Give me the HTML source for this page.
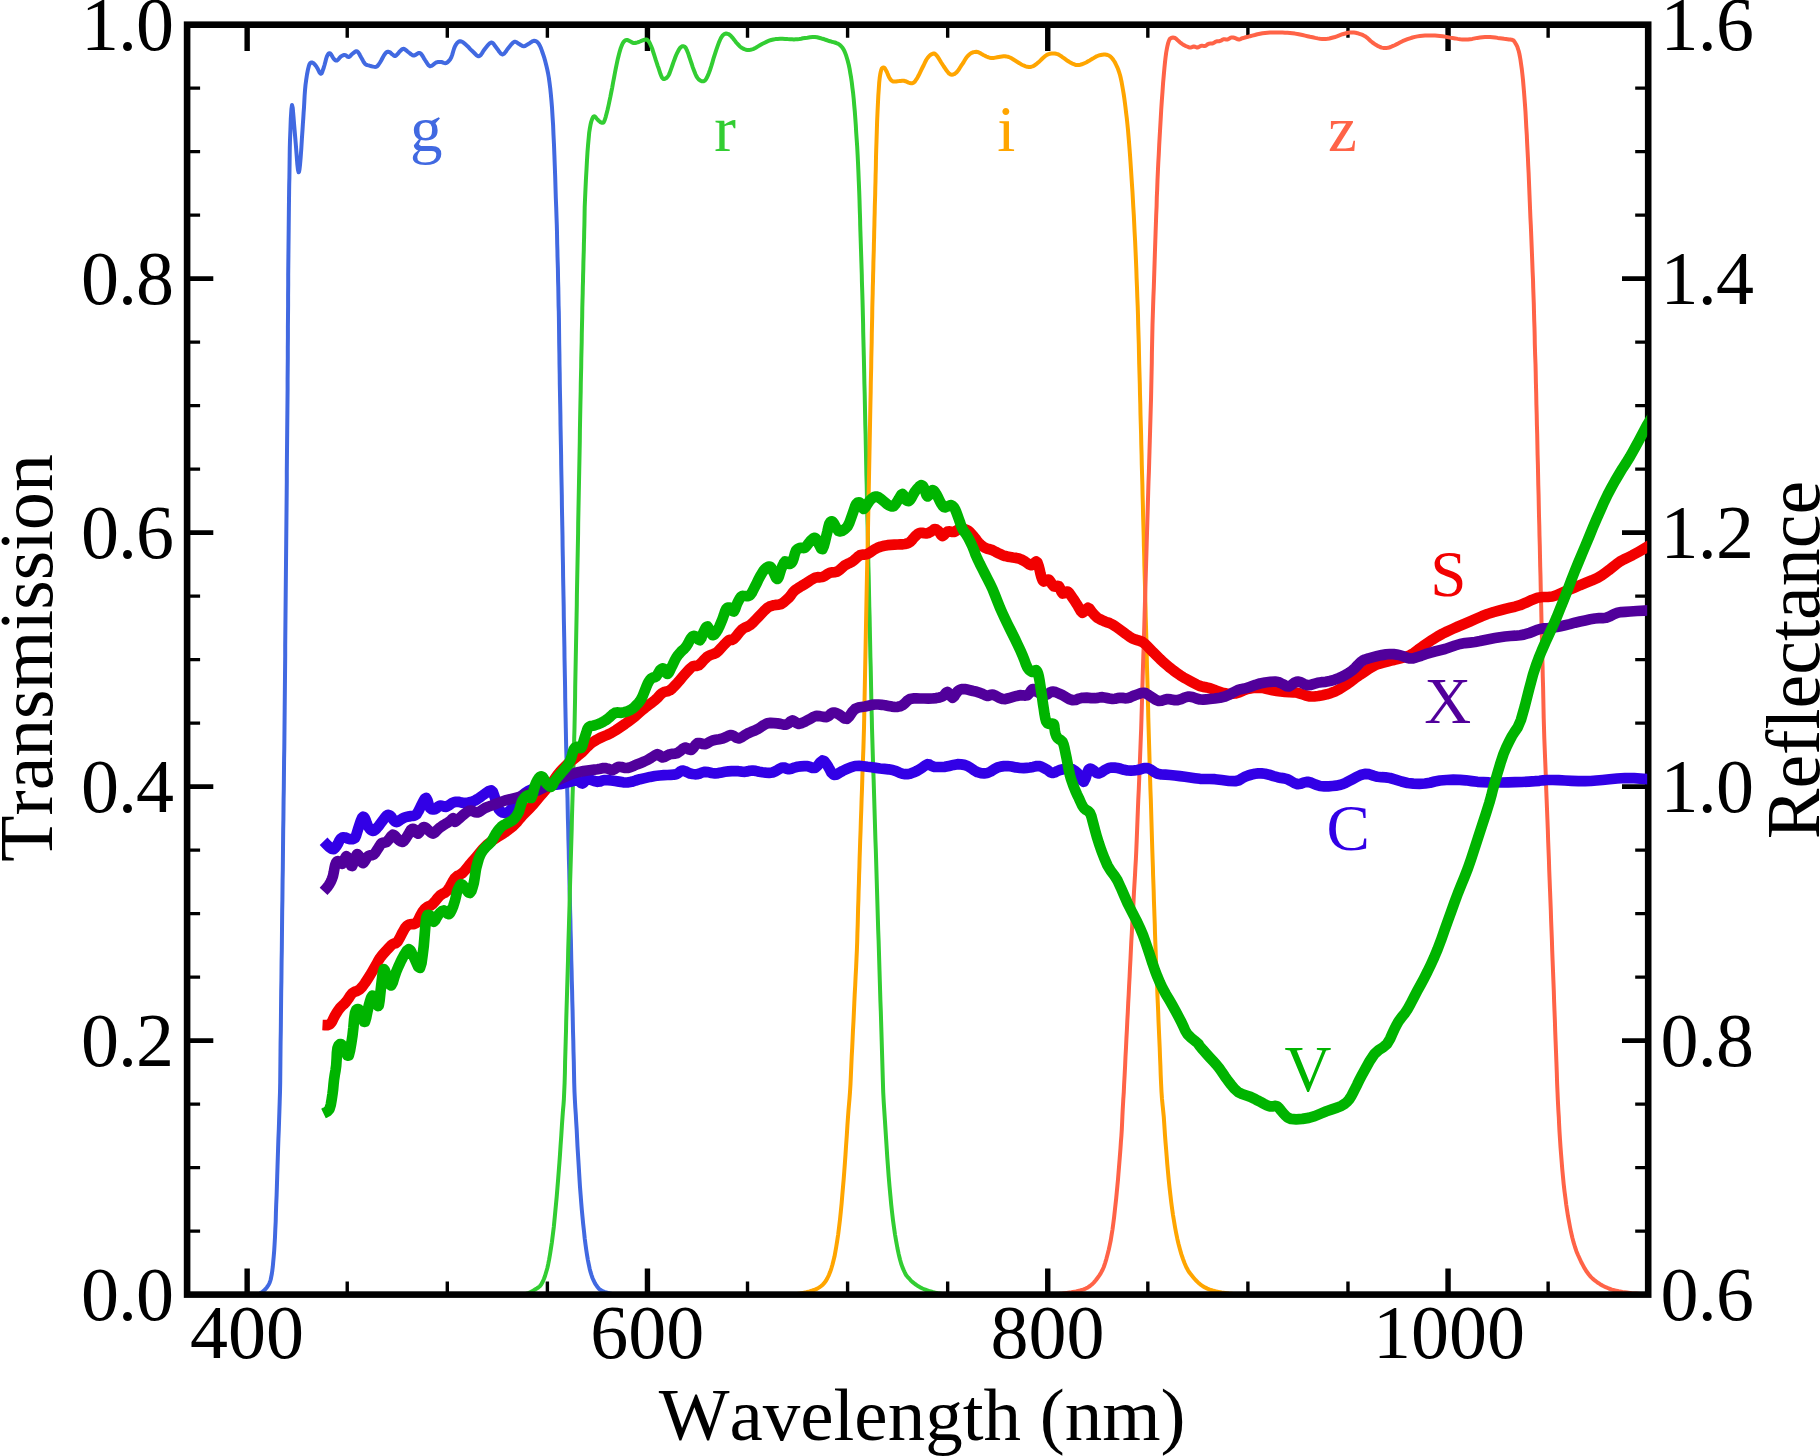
<!DOCTYPE html>
<html lang="en">
<head>
<meta charset="utf-8">
<title>Filter transmission and asteroid reflectance</title>
<style>
html,body{margin:0;padding:0;background:#fff;}
body{width:1820px;height:1456px;overflow:hidden;}
svg{display:block;}
text{font-kerning:none;}
</style>
</head>
<body>
<svg width="1820" height="1456" viewBox="0 0 1820 1456">
<defs><clipPath id="pc"><rect x="187.1" y="24.7" width="1461.1" height="1269.9"/></clipPath><clipPath id="pc2"><rect x="187.1" y="24.7" width="1460.1" height="1269.9"/></clipPath></defs>
<rect width="1820" height="1456" fill="#fff"/>
<g stroke="#000" fill="none">
<path d="M247.15 1294.60 v-26.20 M247.15 24.70 v26.20" stroke-width="5.4"/>
<path d="M347.23 1294.60 v-13.00 M347.23 24.70 v13.00" stroke-width="3.4"/>
<path d="M447.30 1294.60 v-13.00 M447.30 24.70 v13.00" stroke-width="3.4"/>
<path d="M547.38 1294.60 v-13.00 M547.38 24.70 v13.00" stroke-width="3.4"/>
<path d="M647.45 1294.60 v-26.20 M647.45 24.70 v26.20" stroke-width="5.4"/>
<path d="M747.52 1294.60 v-13.00 M747.52 24.70 v13.00" stroke-width="3.4"/>
<path d="M847.60 1294.60 v-13.00 M847.60 24.70 v13.00" stroke-width="3.4"/>
<path d="M947.67 1294.60 v-13.00 M947.67 24.70 v13.00" stroke-width="3.4"/>
<path d="M1047.75 1294.60 v-26.20 M1047.75 24.70 v26.20" stroke-width="5.4"/>
<path d="M1147.83 1294.60 v-13.00 M1147.83 24.70 v13.00" stroke-width="3.4"/>
<path d="M1247.90 1294.60 v-13.00 M1247.90 24.70 v13.00" stroke-width="3.4"/>
<path d="M1347.98 1294.60 v-13.00 M1347.98 24.70 v13.00" stroke-width="3.4"/>
<path d="M1448.05 1294.60 v-26.20 M1448.05 24.70 v26.20" stroke-width="5.4"/>
<path d="M1548.13 1294.60 v-13.00 M1548.13 24.70 v13.00" stroke-width="3.4"/>
<path d="M1648.20 1294.60 v-13.00 M1648.20 24.70 v13.00" stroke-width="3.4"/>
<path d="M187.10 1294.60 h26.20 M1648.20 1294.60 h-26.20" stroke-width="4.8"/>
<path d="M187.10 1231.11 h13.00 M1648.20 1231.11 h-13.00" stroke-width="3.3"/>
<path d="M187.10 1167.61 h13.00 M1648.20 1167.61 h-13.00" stroke-width="3.3"/>
<path d="M187.10 1104.11 h13.00 M1648.20 1104.11 h-13.00" stroke-width="3.3"/>
<path d="M187.10 1040.62 h26.20 M1648.20 1040.62 h-26.20" stroke-width="4.8"/>
<path d="M187.10 977.12 h13.00 M1648.20 977.12 h-13.00" stroke-width="3.3"/>
<path d="M187.10 913.63 h13.00 M1648.20 913.63 h-13.00" stroke-width="3.3"/>
<path d="M187.10 850.13 h13.00 M1648.20 850.13 h-13.00" stroke-width="3.3"/>
<path d="M187.10 786.64 h26.20 M1648.20 786.64 h-26.20" stroke-width="4.8"/>
<path d="M187.10 723.14 h13.00 M1648.20 723.14 h-13.00" stroke-width="3.3"/>
<path d="M187.10 659.65 h13.00 M1648.20 659.65 h-13.00" stroke-width="3.3"/>
<path d="M187.10 596.15 h13.00 M1648.20 596.15 h-13.00" stroke-width="3.3"/>
<path d="M187.10 532.66 h26.20 M1648.20 532.66 h-26.20" stroke-width="4.8"/>
<path d="M187.10 469.16 h13.00 M1648.20 469.16 h-13.00" stroke-width="3.3"/>
<path d="M187.10 405.67 h13.00 M1648.20 405.67 h-13.00" stroke-width="3.3"/>
<path d="M187.10 342.17 h13.00 M1648.20 342.17 h-13.00" stroke-width="3.3"/>
<path d="M187.10 278.68 h26.20 M1648.20 278.68 h-26.20" stroke-width="4.8"/>
<path d="M187.10 215.18 h13.00 M1648.20 215.18 h-13.00" stroke-width="3.3"/>
<path d="M187.10 151.69 h13.00 M1648.20 151.69 h-13.00" stroke-width="3.3"/>
<path d="M187.10 88.19 h13.00 M1648.20 88.19 h-13.00" stroke-width="3.3"/>
<path d="M187.10 24.70 h26.20 M1648.20 24.70 h-26.20" stroke-width="4.8"/>
</g>
<g clip-path="url(#pc)" fill="none" stroke-linejoin="round" stroke-linecap="butt">
<path d="M256.0 1294.5 L256.7 1294.4 L257.7 1294.2 L258.8 1294.0 L260.0 1293.5 L261.2 1292.7 L262.5 1291.8 L263.8 1290.6 L265.0 1289.5 L266.1 1288.4 L267.0 1287.2 L267.9 1285.9 L268.8 1284.5 L269.5 1283.0 L270.1 1281.4 L270.7 1279.5 L271.2 1277.0 L271.8 1274.0 L272.3 1270.6 L272.8 1266.6 L273.2 1262.0 L273.7 1256.6 L274.2 1250.6 L274.6 1244.0 L275.0 1237.0 L275.3 1229.5 L275.7 1221.5 L275.9 1213.2 L276.2 1204.5 L276.6 1195.5 L276.9 1186.1 L277.2 1176.5 L277.5 1167.0 L277.8 1157.6 L278.1 1148.2 L278.4 1138.9 L278.8 1129.5 L279.1 1120.2 L279.4 1110.9 L279.7 1101.6 L280.0 1092.0 L280.2 1082.1 L280.3 1072.0 L280.4 1061.7 L280.5 1051.6 L280.6 1041.4 L280.8 1031.3 L280.9 1021.2 L281.0 1011.1 L281.1 1001.0 L281.2 990.9 L281.4 980.8 L281.5 970.7 L281.6 960.6 L281.8 950.4 L281.9 940.3 L282.0 930.2 L282.1 920.1 L282.2 910.0 L282.4 899.9 L282.5 889.8 L282.6 879.7 L282.8 869.6 L282.9 859.4 L283.0 849.3 L283.1 839.2 L283.2 829.1 L283.4 819.0 L283.5 808.9 L283.6 798.8 L283.8 788.7 L283.9 778.6 L284.0 768.4 L284.1 758.3 L284.3 748.3 L284.4 738.2 L284.5 728.0 L284.6 717.8 L284.7 707.5 L284.8 697.3 L284.9 687.0 L285.0 676.8 L285.1 666.5 L285.2 656.2 L285.2 646.0 L285.3 635.8 L285.4 625.5 L285.5 615.2 L285.6 605.0 L285.7 594.8 L285.8 584.5 L285.9 574.2 L286.0 564.0 L286.1 553.8 L286.2 543.5 L286.3 533.2 L286.4 523.0 L286.5 512.8 L286.6 502.5 L286.7 492.2 L286.8 482.0 L286.8 471.8 L286.9 461.5 L287.0 451.2 L287.1 441.0 L287.2 430.8 L287.3 420.5 L287.4 410.3 L287.5 400.0 L287.6 389.6 L287.6 379.2 L287.7 368.8 L287.8 358.3 L287.8 347.9 L287.9 337.5 L287.9 327.1 L288.0 316.7 L288.1 306.2 L288.1 295.6 L288.2 285.1 L288.2 275.0 L288.3 265.3 L288.4 256.0 L288.5 246.8 L288.6 237.5 L288.7 227.9 L288.8 218.3 L288.9 208.8 L289.0 200.0 L289.1 192.0 L289.2 184.5 L289.4 177.3 L289.5 170.0 L289.6 162.6 L289.7 155.3 L289.8 147.9 L290.0 140.0 L290.4 130.1 L290.8 118.8 L291.4 109.3 L292.0 105.0 L292.7 107.8 L293.4 115.6 L294.2 125.6 L295.0 135.0 L295.8 144.3 L296.6 154.7 L297.3 163.9 L298.0 170.0 L298.6 172.3 L299.0 171.9 L299.5 169.3 L300.0 165.0 L300.6 158.1 L301.3 148.6 L301.9 138.6 L302.5 130.0 L302.9 123.5 L303.3 118.0 L303.6 112.8 L304.0 107.5 L304.3 101.8 L304.6 96.0 L305.0 90.4 L305.5 85.0 L306.2 79.7 L307.0 74.5 L307.9 69.8 L308.8 66.2 L309.5 64.1 L310.3 63.0 L311.1 62.6 L312.0 62.5 L313.0 62.8 L314.0 63.7 L315.1 64.9 L316.2 66.2 L317.4 68.2 L318.6 70.6 L319.7 72.8 L320.8 73.8 L321.6 73.3 L322.3 71.8 L323.0 69.7 L323.8 67.5 L324.6 64.8 L325.4 61.7 L326.2 58.6 L327.0 56.2 L327.8 54.7 L328.5 53.7 L329.2 53.2 L330.0 53.2 L330.9 54.1 L331.9 55.7 L332.8 57.4 L333.8 58.8 L334.5 59.6 L335.2 60.2 L335.9 60.6 L336.8 60.5 L337.8 59.8 L339.0 58.6 L340.1 57.2 L341.2 56.2 L342.2 55.7 L343.2 55.2 L344.1 55.0 L345.0 55.0 L345.9 55.4 L346.9 56.1 L347.8 56.8 L348.8 57.0 L349.7 56.5 L350.6 55.7 L351.5 54.6 L352.5 53.8 L353.6 52.9 L354.7 51.9 L355.9 51.2 L357.0 51.2 L358.1 52.2 L359.2 53.8 L360.2 55.7 L361.2 57.5 L362.2 59.2 L363.1 60.9 L364.0 62.5 L365.0 63.8 L366.1 64.6 L367.3 65.1 L368.6 65.4 L370.0 65.8 L371.5 66.2 L373.2 66.6 L374.8 66.9 L376.2 66.8 L377.3 66.2 L378.2 65.2 L379.0 64.0 L380.0 62.5 L381.2 60.5 L382.5 58.0 L383.8 55.6 L385.0 53.8 L386.0 52.7 L387.0 52.0 L387.8 51.8 L388.8 51.8 L389.7 52.1 L390.7 52.9 L391.6 53.8 L392.5 54.5 L393.3 55.1 L394.0 55.7 L394.7 56.1 L395.5 56.0 L396.5 55.2 L397.7 53.9 L398.9 52.4 L400.0 51.2 L401.0 50.3 L401.8 49.5 L402.7 48.9 L403.8 48.8 L404.9 49.3 L406.2 50.3 L407.5 51.5 L408.8 52.5 L410.0 53.4 L411.2 54.4 L412.4 55.2 L413.8 55.5 L415.3 55.0 L416.9 54.0 L418.5 53.1 L420.0 53.0 L421.3 54.1 L422.6 56.0 L423.8 58.1 L425.0 60.0 L426.2 61.8 L427.4 63.8 L428.7 65.4 L430.0 66.2 L431.5 65.9 L433.1 64.8 L434.7 63.4 L436.2 62.5 L437.6 62.1 L438.8 62.0 L440.0 61.9 L441.2 62.0 L442.5 62.3 L443.8 62.8 L445.0 63.2 L446.2 63.0 L447.5 62.2 L448.8 61.0 L450.1 59.4 L451.2 57.5 L452.2 54.9 L453.1 51.8 L454.0 48.8 L455.0 46.2 L456.1 44.4 L457.3 42.8 L458.6 41.7 L460.0 41.2 L461.4 41.5 L463.0 42.3 L464.6 43.6 L466.2 45.0 L468.1 46.7 L470.0 48.8 L472.0 50.8 L473.8 52.5 L475.3 54.0 L476.6 55.3 L477.9 56.2 L479.2 56.2 L480.7 55.1 L482.1 53.1 L483.5 50.8 L485.0 48.8 L486.6 46.8 L488.2 44.8 L489.8 43.2 L491.2 42.5 L492.6 42.9 L493.8 44.2 L494.9 45.8 L496.2 47.5 L497.7 49.4 L499.3 51.8 L500.9 53.7 L502.5 54.5 L504.1 53.7 L505.7 51.8 L507.2 49.5 L508.8 47.5 L510.2 45.8 L511.6 44.1 L513.0 42.6 L514.2 41.8 L515.4 41.7 L516.5 42.2 L517.6 43.0 L518.8 43.8 L520.0 44.5 L521.2 45.3 L522.5 46.0 L523.8 46.2 L525.0 46.0 L526.2 45.3 L527.5 44.5 L528.8 43.8 L530.1 42.9 L531.5 41.9 L532.9 41.1 L534.2 40.8 L535.5 40.9 L536.6 41.5 L537.7 42.5 L538.8 43.8 L539.7 45.4 L540.7 47.5 L541.6 49.9 L542.5 52.5 L543.4 55.2 L544.4 58.2 L545.3 61.4 L546.2 65.0 L547.1 68.8 L548.0 73.0 L548.8 77.5 L549.5 82.5 L550.2 87.9 L550.8 93.8 L551.4 100.2 L552.0 107.5 L552.5 115.9 L553.1 125.2 L553.5 135.0 L554.0 145.0 L554.4 155.4 L554.8 166.2 L555.2 177.1 L555.5 187.5 L555.8 197.5 L556.2 207.3 L556.5 216.6 L556.8 225.0 L557.0 232.1 L557.1 238.3 L557.2 244.0 L557.4 250.0 L557.5 256.2 L557.7 262.5 L557.9 268.8 L558.0 275.0 L558.1 281.2 L558.3 287.5 L558.4 293.8 L558.5 300.0 L558.6 305.9 L558.8 311.6 L558.9 317.8 L559.0 325.0 L559.1 333.7 L559.2 343.5 L559.4 353.8 L559.5 364.0 L559.7 374.0 L559.8 384.1 L560.0 394.3 L560.2 404.4 L560.4 414.6 L560.5 424.7 L560.7 434.8 L560.9 444.9 L561.1 455.0 L561.2 465.1 L561.4 475.2 L561.6 485.3 L561.8 495.4 L561.9 505.6 L562.1 515.7 L562.3 525.8 L562.5 535.9 L562.6 546.0 L562.8 556.1 L563.0 566.2 L563.1 576.3 L563.3 586.4 L563.5 596.6 L563.7 606.7 L563.8 616.8 L564.0 626.9 L564.2 637.0 L564.4 647.1 L564.5 657.2 L564.7 667.3 L564.9 677.4 L565.1 687.6 L565.2 697.7 L565.4 707.8 L565.6 717.9 L565.8 728.0 L566.0 738.1 L566.2 748.2 L566.5 758.3 L566.7 768.4 L567.0 778.6 L567.2 788.7 L567.5 798.8 L567.7 808.9 L567.9 819.0 L568.2 829.1 L568.4 839.2 L568.7 849.3 L568.9 859.4 L569.2 869.6 L569.4 879.7 L569.6 889.8 L569.9 899.9 L570.1 910.0 L570.4 920.1 L570.6 930.2 L570.9 940.3 L571.1 950.4 L571.3 960.6 L571.6 970.7 L571.8 980.8 L572.1 990.9 L572.3 1001.0 L572.6 1011.1 L572.8 1021.2 L573.0 1031.3 L573.3 1041.4 L573.5 1051.6 L573.8 1061.9 L574.0 1072.4 L574.2 1082.6 L574.5 1092.0 L574.9 1100.2 L575.3 1107.5 L575.8 1114.6 L576.2 1122.0 L576.7 1129.9 L577.1 1138.1 L577.5 1146.3 L578.0 1154.5 L578.5 1162.7 L579.0 1170.9 L579.5 1179.1 L580.0 1187.0 L580.6 1194.7 L581.2 1202.3 L581.8 1209.7 L582.5 1217.0 L583.2 1224.2 L584.0 1231.4 L584.7 1238.2 L585.5 1244.5 L586.3 1250.2 L587.1 1255.4 L587.9 1260.1 L588.8 1264.5 L589.6 1268.4 L590.5 1271.9 L591.5 1275.1 L592.5 1278.0 L593.7 1280.7 L594.9 1283.1 L596.2 1285.2 L597.5 1287.0 L598.7 1288.4 L599.8 1289.4 L601.1 1290.2 L602.5 1291.0 L604.2 1291.8 L606.1 1292.4 L608.0 1293.0 L610.0 1293.5 L612.2 1293.9 L614.5 1294.2 L616.6 1294.4 L618.0 1294.5" stroke="#4169e1" stroke-width="4.0"/>
<path d="M522.0 1294.5 L522.9 1294.4 L524.3 1294.2 L525.9 1294.0 L527.5 1293.5 L529.3 1292.7 L531.2 1291.8 L533.2 1290.6 L535.0 1289.5 L536.7 1288.5 L538.3 1287.5 L539.8 1286.3 L541.2 1284.5 L542.6 1282.0 L543.9 1279.0 L545.1 1275.7 L546.2 1272.0 L547.3 1268.2 L548.2 1264.2 L549.1 1259.7 L550.0 1254.5 L550.9 1248.6 L551.9 1242.2 L552.8 1235.0 L553.8 1227.0 L554.7 1217.7 L555.7 1207.3 L556.7 1196.8 L557.5 1187.0 L558.2 1178.5 L558.8 1170.6 L559.4 1162.8 L560.0 1154.5 L560.6 1145.2 L561.3 1135.3 L561.9 1125.6 L562.5 1117.0 L563.0 1110.2 L563.5 1104.7 L563.9 1099.0 L564.2 1092.0 L564.6 1083.0 L564.9 1072.7 L565.1 1062.0 L565.4 1051.6 L565.7 1041.4 L566.0 1031.3 L566.2 1021.2 L566.5 1011.1 L566.8 1001.0 L567.1 990.9 L567.4 980.8 L567.7 970.7 L568.0 960.6 L568.2 950.4 L568.5 940.3 L568.8 930.2 L569.1 920.1 L569.4 910.0 L569.7 899.9 L569.9 889.8 L570.2 879.7 L570.5 869.6 L570.8 859.4 L571.1 849.3 L571.4 839.2 L571.7 829.1 L571.9 819.0 L572.2 808.9 L572.5 798.8 L572.8 788.7 L573.1 778.6 L573.4 768.4 L573.7 758.3 L574.0 748.3 L574.2 738.2 L574.5 728.0 L574.7 717.8 L574.9 707.5 L575.1 697.3 L575.2 687.0 L575.4 676.8 L575.6 666.5 L575.8 656.2 L576.0 646.0 L576.2 635.8 L576.4 625.5 L576.6 615.2 L576.8 605.0 L576.9 594.8 L577.1 584.5 L577.3 574.2 L577.5 564.0 L577.7 553.8 L577.9 543.5 L578.1 533.2 L578.2 523.0 L578.4 512.8 L578.6 502.5 L578.8 492.2 L579.0 482.0 L579.2 471.8 L579.4 461.5 L579.6 451.2 L579.8 441.0 L579.9 430.6 L580.1 420.0 L580.3 409.7 L580.5 400.0 L580.7 391.1 L580.8 382.9 L581.0 374.8 L581.2 366.7 L581.3 358.3 L581.5 350.0 L581.7 341.7 L581.8 333.3 L582.0 324.8 L582.2 316.1 L582.3 307.7 L582.5 300.0 L582.7 293.2 L582.8 287.0 L583.0 281.1 L583.1 275.0 L583.3 268.8 L583.4 262.5 L583.6 256.2 L583.8 250.0 L583.9 243.8 L584.1 237.5 L584.2 231.2 L584.4 225.0 L584.5 219.1 L584.6 213.4 L584.7 207.3 L585.0 200.0 L585.4 190.8 L585.9 180.2 L586.5 169.5 L587.0 160.0 L587.5 151.9 L588.1 144.5 L588.7 138.0 L589.2 132.5 L589.9 128.1 L590.5 124.8 L591.1 122.2 L591.8 120.0 L592.4 118.3 L593.0 117.1 L593.6 116.5 L594.2 116.2 L595.0 116.6 L595.8 117.5 L596.6 118.5 L597.5 119.5 L598.4 120.4 L599.4 121.3 L600.4 122.1 L601.2 122.5 L602.0 122.7 L602.8 122.8 L603.5 122.4 L604.2 121.2 L605.0 119.3 L605.8 116.6 L606.6 113.5 L607.5 110.0 L608.4 106.1 L609.3 101.8 L610.3 97.2 L611.2 92.5 L612.2 87.6 L613.1 82.5 L614.1 77.4 L615.0 72.5 L615.9 67.8 L616.9 63.2 L617.8 58.9 L618.8 55.0 L619.7 51.6 L620.6 48.5 L621.6 45.9 L622.5 43.8 L623.4 42.2 L624.4 41.1 L625.3 40.4 L626.2 40.0 L627.2 39.9 L628.1 40.3 L629.1 40.8 L630.0 41.2 L630.9 41.7 L631.8 42.3 L632.7 42.7 L633.8 43.0 L634.9 43.0 L636.2 42.7 L637.5 42.4 L638.8 42.0 L640.0 41.5 L641.3 40.9 L642.6 40.4 L643.8 40.0 L644.8 39.7 L645.7 39.5 L646.6 39.5 L647.5 40.0 L648.4 41.0 L649.4 42.4 L650.3 44.2 L651.2 46.2 L652.2 48.7 L653.1 51.6 L654.1 54.6 L655.0 57.5 L655.9 60.4 L656.9 63.3 L657.8 66.1 L658.8 68.8 L659.6 71.3 L660.4 73.8 L661.2 75.9 L662.0 77.5 L662.8 78.5 L663.5 78.9 L664.2 79.0 L665.0 78.8 L665.9 78.3 L666.8 77.6 L667.8 76.5 L668.8 75.0 L669.7 72.9 L670.6 70.4 L671.6 67.6 L672.5 65.0 L673.4 62.4 L674.4 59.8 L675.3 57.3 L676.2 55.0 L677.2 52.9 L678.2 51.0 L679.1 49.3 L680.0 48.0 L680.9 47.1 L681.7 46.5 L682.5 46.3 L683.2 46.2 L684.0 46.4 L684.7 46.8 L685.5 47.5 L686.2 48.8 L687.1 50.7 L688.1 53.2 L689.0 56.0 L690.0 58.8 L690.9 61.6 L691.9 64.5 L692.8 67.4 L693.8 70.0 L694.7 72.3 L695.6 74.5 L696.5 76.4 L697.5 78.0 L698.6 79.3 L699.8 80.2 L700.9 80.9 L702.0 81.2 L703.0 81.3 L703.9 81.2 L704.8 80.6 L705.8 79.5 L706.8 77.8 L707.8 75.7 L708.9 73.0 L710.0 70.0 L711.2 66.4 L712.5 62.1 L713.7 57.8 L715.0 53.8 L716.3 49.9 L717.6 46.2 L718.8 42.8 L720.0 40.0 L721.0 37.9 L722.0 36.4 L722.8 35.3 L723.8 34.5 L724.7 33.9 L725.6 33.6 L726.6 33.6 L727.5 33.8 L728.4 34.1 L729.3 34.6 L730.2 35.3 L731.2 36.2 L732.4 37.6 L733.7 39.2 L735.0 40.9 L736.2 42.5 L737.5 43.9 L738.7 45.2 L739.9 46.5 L741.2 47.5 L742.7 48.4 L744.3 49.1 L745.9 49.7 L747.5 50.0 L749.0 50.0 L750.5 49.8 L752.0 49.4 L753.8 48.8 L755.8 47.7 L758.0 46.4 L760.3 45.0 L762.5 43.8 L764.7 42.7 L766.9 41.6 L769.1 40.7 L771.2 40.0 L773.4 39.5 L775.5 39.1 L777.7 38.9 L780.0 38.8 L782.5 38.8 L785.1 38.9 L787.6 39.1 L790.0 39.2 L792.1 39.3 L793.9 39.4 L795.7 39.3 L797.5 39.2 L799.3 39.0 L801.1 38.7 L802.9 38.3 L805.0 38.0 L807.4 37.7 L810.0 37.3 L812.6 37.1 L815.0 37.0 L817.1 37.2 L818.9 37.7 L820.7 38.2 L822.5 38.8 L824.4 39.3 L826.3 40.0 L828.2 40.7 L830.0 41.2 L831.7 41.7 L833.3 42.1 L834.8 42.5 L836.2 43.0 L837.6 43.6 L838.9 44.3 L840.1 45.2 L841.2 46.2 L842.3 47.5 L843.2 48.8 L844.1 50.4 L845.0 52.5 L846.0 55.1 L846.9 58.0 L847.9 61.4 L848.8 65.0 L849.6 68.9 L850.3 73.1 L851.1 77.7 L851.8 82.5 L852.4 87.7 L853.1 93.1 L853.7 98.9 L854.2 105.0 L854.8 111.5 L855.3 118.3 L855.8 125.3 L856.2 132.5 L856.7 139.6 L857.2 146.9 L857.6 154.4 L858.0 162.5 L858.4 171.6 L858.8 181.6 L859.2 191.3 L859.5 200.0 L859.7 207.1 L859.9 213.3 L860.1 219.0 L860.2 225.0 L860.4 231.2 L860.6 237.5 L860.8 243.8 L861.0 250.0 L861.2 256.2 L861.4 262.5 L861.6 268.8 L861.8 275.0 L861.9 281.1 L862.1 287.1 L862.3 293.3 L862.5 300.0 L862.7 307.5 L862.9 315.6 L863.1 323.8 L863.2 332.0 L863.4 339.8 L863.6 347.5 L863.8 355.4 L864.0 364.0 L864.2 373.5 L864.4 383.7 L864.7 394.1 L864.9 404.4 L865.1 414.6 L865.3 424.7 L865.6 434.8 L865.8 444.9 L866.0 455.0 L866.2 465.1 L866.4 475.2 L866.7 485.3 L866.9 495.4 L867.1 505.6 L867.3 515.7 L867.6 525.8 L867.8 535.9 L868.0 546.0 L868.2 556.1 L868.4 566.2 L868.7 576.3 L868.9 586.4 L869.1 596.6 L869.3 606.7 L869.6 616.8 L869.8 626.9 L870.0 637.0 L870.2 647.1 L870.4 657.2 L870.7 667.3 L870.9 677.4 L871.1 687.6 L871.3 697.7 L871.5 707.8 L871.8 717.9 L872.0 728.0 L872.3 738.1 L872.6 748.2 L872.9 758.3 L873.2 768.4 L873.6 778.6 L873.9 788.7 L874.2 798.8 L874.5 808.9 L874.8 819.0 L875.1 829.1 L875.4 839.2 L875.8 849.3 L876.1 859.4 L876.4 869.6 L876.7 879.7 L877.0 889.8 L877.3 899.9 L877.6 910.0 L877.9 920.1 L878.2 930.2 L878.6 940.3 L878.9 950.4 L879.2 960.6 L879.5 970.7 L879.8 980.8 L880.1 990.9 L880.4 1001.0 L880.8 1011.1 L881.1 1021.2 L881.4 1031.3 L881.7 1041.4 L882.0 1051.6 L882.3 1061.7 L882.6 1072.0 L882.9 1082.1 L883.2 1092.0 L883.7 1101.6 L884.3 1110.9 L884.9 1120.2 L885.5 1129.5 L886.1 1138.9 L886.7 1148.2 L887.3 1157.6 L888.0 1167.0 L888.7 1176.6 L889.5 1186.2 L890.4 1195.7 L891.2 1204.5 L892.1 1212.6 L893.0 1220.3 L894.0 1227.5 L895.0 1234.5 L896.2 1241.4 L897.4 1248.0 L898.7 1254.2 L900.0 1259.5 L901.2 1263.8 L902.5 1267.4 L903.8 1270.4 L905.0 1273.0 L906.2 1275.2 L907.5 1276.8 L908.8 1278.2 L910.0 1279.5 L911.2 1280.8 L912.3 1281.9 L913.6 1282.9 L915.0 1284.0 L916.6 1285.1 L918.4 1286.3 L920.4 1287.4 L922.5 1288.5 L924.8 1289.5 L927.3 1290.4 L929.9 1291.3 L932.5 1292.0 L935.1 1292.6 L937.7 1293.2 L940.2 1293.6 L942.5 1294.0 L944.7 1294.2 L946.9 1294.4 L948.7 1294.4 L950.0 1294.5" stroke="#32cd32" stroke-width="4.0"/>
<path d="M790.0 1294.5 L791.7 1294.4 L794.2 1294.2 L797.1 1293.9 L800.0 1293.5 L803.0 1292.9 L806.3 1292.2 L809.6 1291.4 L812.5 1290.5 L815.0 1289.6 L817.3 1288.6 L819.3 1287.4 L821.2 1286.0 L823.0 1284.4 L824.6 1282.6 L826.1 1280.5 L827.5 1278.0 L828.9 1275.1 L830.2 1271.8 L831.4 1268.3 L832.5 1264.5 L833.5 1260.6 L834.5 1256.6 L835.3 1252.2 L836.2 1247.0 L837.2 1240.9 L838.2 1234.2 L839.1 1227.0 L840.0 1219.5 L840.8 1211.7 L841.6 1203.6 L842.3 1195.2 L843.0 1187.0 L843.7 1179.0 L844.3 1171.1 L844.9 1163.0 L845.5 1154.5 L846.1 1145.2 L846.8 1135.3 L847.4 1125.6 L848.0 1117.0 L848.5 1110.1 L849.0 1104.4 L849.5 1098.7 L850.0 1092.0 L850.5 1083.9 L850.9 1074.9 L851.3 1065.6 L851.7 1056.5 L852.2 1047.6 L852.6 1038.8 L853.0 1029.9 L853.5 1021.0 L853.9 1012.1 L854.3 1003.2 L854.7 994.4 L855.2 985.5 L855.6 976.6 L856.1 967.6 L856.5 958.7 L856.9 950.0 L857.2 941.5 L857.4 933.2 L857.7 924.9 L857.9 916.7 L858.1 908.3 L858.4 900.0 L858.6 891.7 L858.9 883.3 L859.1 875.2 L859.4 867.1 L859.6 858.8 L859.9 850.0 L860.2 840.3 L860.6 830.1 L860.9 819.7 L861.3 809.3 L861.6 799.2 L862.0 789.0 L862.3 778.8 L862.6 768.7 L863.0 758.5 L863.4 748.4 L863.7 738.2 L864.0 728.0 L864.2 717.8 L864.4 707.5 L864.6 697.3 L864.8 687.0 L865.0 676.8 L865.2 666.5 L865.4 656.2 L865.6 646.0 L865.8 635.8 L866.0 625.5 L866.2 615.2 L866.4 605.0 L866.6 594.8 L866.8 584.5 L867.0 574.2 L867.2 564.0 L867.5 553.8 L867.7 543.5 L867.9 533.2 L868.1 523.0 L868.3 512.8 L868.5 502.5 L868.7 492.2 L868.9 482.0 L869.1 471.8 L869.3 461.5 L869.5 451.2 L869.7 441.0 L869.9 430.6 L870.1 420.0 L870.3 409.7 L870.5 400.0 L870.7 391.1 L870.8 382.9 L871.0 374.8 L871.2 366.7 L871.3 358.3 L871.5 350.0 L871.7 341.7 L871.8 333.3 L872.0 324.8 L872.2 316.1 L872.3 307.7 L872.5 300.0 L872.7 293.2 L872.8 287.0 L873.0 281.1 L873.1 275.0 L873.3 268.8 L873.4 262.5 L873.6 256.2 L873.8 250.0 L873.9 243.8 L874.1 237.5 L874.2 231.2 L874.4 225.0 L874.5 218.8 L874.7 212.5 L874.8 206.2 L875.0 200.0 L875.2 193.8 L875.3 187.5 L875.5 181.2 L875.6 175.0 L875.8 169.0 L875.9 163.3 L876.0 157.1 L876.2 150.0 L876.5 141.3 L876.8 131.6 L877.1 121.6 L877.5 112.5 L877.9 104.1 L878.3 95.9 L878.8 88.6 L879.2 82.5 L879.7 77.9 L880.2 74.5 L880.7 72.0 L881.2 70.0 L881.8 68.5 L882.5 67.8 L883.1 67.5 L883.8 67.5 L884.4 67.8 L885.0 68.5 L885.6 69.6 L886.2 70.8 L887.0 72.3 L887.7 74.1 L888.5 75.9 L889.2 77.5 L890.0 78.7 L890.8 79.8 L891.6 80.6 L892.5 81.2 L893.6 81.5 L894.8 81.5 L896.1 81.4 L897.5 81.2 L899.0 81.1 L900.5 80.9 L902.2 80.7 L903.8 80.8 L905.4 81.2 L907.0 81.9 L908.6 82.6 L910.0 83.0 L911.1 83.2 L912.0 83.2 L912.9 83.0 L913.8 82.5 L914.7 81.7 L915.5 80.6 L916.5 79.2 L917.5 77.5 L918.7 75.3 L919.9 72.8 L921.2 70.1 L922.5 67.5 L923.8 65.0 L925.0 62.4 L926.2 60.0 L927.5 58.0 L928.8 56.4 L930.1 55.2 L931.3 54.3 L932.5 53.8 L933.5 53.5 L934.4 53.6 L935.3 54.1 L936.2 55.0 L937.4 56.4 L938.7 58.4 L940.0 60.5 L941.2 62.5 L942.5 64.5 L943.8 66.5 L945.1 68.4 L946.2 70.0 L947.3 71.4 L948.2 72.6 L949.1 73.6 L950.0 74.2 L950.9 74.6 L951.9 74.7 L952.8 74.6 L953.8 74.2 L954.7 73.8 L955.5 73.2 L956.5 72.4 L957.5 71.2 L958.7 69.7 L959.9 67.8 L961.2 65.7 L962.5 63.8 L963.8 61.8 L965.0 59.8 L966.2 57.9 L967.5 56.2 L968.8 55.0 L970.0 53.9 L971.2 53.1 L972.5 52.5 L973.8 52.1 L975.0 51.9 L976.2 51.8 L977.5 52.0 L978.8 52.4 L980.0 53.1 L981.2 53.8 L982.5 54.5 L983.8 55.2 L985.0 55.8 L986.2 56.5 L987.5 57.0 L988.7 57.4 L989.9 57.7 L991.2 57.9 L992.5 58.0 L994.0 57.9 L995.5 57.6 L997.2 57.3 L998.8 57.0 L1000.3 56.7 L1002.0 56.5 L1003.5 56.3 L1005.0 56.2 L1006.3 56.4 L1007.5 56.6 L1008.7 57.0 L1010.0 57.5 L1011.5 58.3 L1013.0 59.2 L1014.7 60.3 L1016.2 61.2 L1017.8 62.2 L1019.4 63.2 L1020.9 64.2 L1022.5 65.0 L1024.1 65.7 L1025.7 66.3 L1027.3 66.8 L1028.8 67.0 L1030.1 67.0 L1031.3 66.7 L1032.5 66.3 L1033.8 65.8 L1035.0 65.0 L1036.2 64.2 L1037.4 63.1 L1038.8 62.0 L1040.3 60.6 L1041.9 59.0 L1043.5 57.5 L1045.0 56.2 L1046.3 55.3 L1047.5 54.6 L1048.7 54.1 L1050.0 53.8 L1051.5 53.5 L1053.1 53.4 L1054.7 53.5 L1056.2 53.8 L1057.6 54.2 L1058.8 54.7 L1059.9 55.4 L1061.2 56.2 L1062.7 57.3 L1064.3 58.4 L1065.9 59.6 L1067.5 60.8 L1069.1 61.8 L1070.7 62.7 L1072.3 63.6 L1073.8 64.2 L1075.1 64.7 L1076.2 65.0 L1077.4 65.1 L1078.8 65.0 L1080.2 64.7 L1081.8 64.3 L1083.4 63.7 L1085.0 63.0 L1086.6 62.2 L1088.1 61.3 L1089.7 60.4 L1091.2 59.5 L1092.8 58.6 L1094.4 57.6 L1095.9 56.7 L1097.5 56.0 L1099.1 55.4 L1100.7 55.0 L1102.3 54.7 L1103.8 54.5 L1105.1 54.5 L1106.4 54.7 L1107.6 55.0 L1108.8 55.5 L1109.8 56.1 L1110.7 56.8 L1111.6 57.7 L1112.5 58.8 L1113.4 60.0 L1114.4 61.5 L1115.3 63.1 L1116.2 65.0 L1117.2 67.1 L1118.2 69.5 L1119.1 72.1 L1120.0 75.0 L1120.8 78.3 L1121.6 82.0 L1122.3 86.0 L1123.0 90.0 L1123.7 94.1 L1124.3 98.3 L1124.9 102.7 L1125.5 107.5 L1126.1 112.7 L1126.8 118.3 L1127.4 124.1 L1128.0 130.0 L1128.5 136.0 L1129.0 142.0 L1129.5 148.3 L1130.0 155.0 L1130.5 162.1 L1131.0 169.7 L1131.5 177.4 L1132.0 185.0 L1132.5 192.4 L1132.9 199.7 L1133.3 207.1 L1133.8 215.0 L1134.2 223.3 L1134.6 232.0 L1135.1 241.0 L1135.5 250.0 L1135.9 259.2 L1136.3 268.6 L1136.6 278.1 L1137.0 287.5 L1137.3 296.8 L1137.7 306.2 L1138.0 315.5 L1138.2 325.0 L1138.5 334.6 L1138.8 344.3 L1139.0 354.1 L1139.2 364.0 L1139.5 374.0 L1139.8 384.1 L1140.0 394.3 L1140.3 404.4 L1140.5 414.6 L1140.8 424.7 L1141.1 434.8 L1141.3 444.9 L1141.6 455.0 L1141.8 465.1 L1142.1 475.2 L1142.4 485.3 L1142.6 495.4 L1142.9 505.6 L1143.1 515.7 L1143.4 525.8 L1143.7 535.9 L1143.9 546.0 L1144.2 556.1 L1144.4 566.2 L1144.7 576.3 L1145.0 586.4 L1145.2 596.6 L1145.5 606.7 L1145.7 616.8 L1146.0 626.9 L1146.3 637.0 L1146.5 647.1 L1146.8 657.2 L1147.0 667.3 L1147.3 677.4 L1147.6 687.6 L1147.8 697.7 L1148.1 707.8 L1148.3 717.9 L1148.6 728.0 L1148.9 738.2 L1149.2 748.3 L1149.5 758.5 L1149.8 768.7 L1150.1 778.8 L1150.4 789.0 L1150.8 799.2 L1151.1 809.3 L1151.4 819.7 L1151.7 830.1 L1152.0 840.3 L1152.3 850.0 L1152.6 858.8 L1152.9 867.1 L1153.1 875.2 L1153.4 883.3 L1153.7 891.7 L1153.9 900.0 L1154.2 908.3 L1154.5 916.7 L1154.8 924.9 L1155.0 933.2 L1155.3 941.5 L1155.6 950.0 L1155.9 958.7 L1156.3 967.6 L1156.7 976.6 L1157.1 985.5 L1157.4 994.4 L1157.8 1003.2 L1158.2 1012.1 L1158.5 1021.0 L1158.9 1029.9 L1159.3 1038.8 L1159.7 1047.6 L1160.0 1056.5 L1160.4 1065.6 L1160.7 1074.9 L1161.1 1083.9 L1161.5 1092.0 L1162.0 1099.0 L1162.6 1105.2 L1163.2 1111.0 L1163.8 1117.0 L1164.2 1123.1 L1164.6 1129.2 L1165.0 1135.4 L1165.5 1142.0 L1166.1 1149.1 L1166.7 1156.7 L1167.3 1164.4 L1168.0 1172.0 L1168.7 1179.6 L1169.5 1187.3 L1170.4 1194.9 L1171.2 1202.0 L1172.1 1208.7 L1173.0 1215.0 L1174.0 1221.0 L1175.0 1227.0 L1176.1 1232.9 L1177.3 1238.7 L1178.6 1244.3 L1180.0 1249.5 L1181.4 1254.4 L1183.0 1259.0 L1184.6 1263.2 L1186.2 1267.0 L1188.0 1270.3 L1189.8 1273.1 L1191.8 1275.6 L1193.8 1278.0 L1195.8 1280.3 L1198.0 1282.4 L1200.2 1284.3 L1202.5 1286.0 L1204.9 1287.4 L1207.3 1288.6 L1209.8 1289.6 L1212.5 1290.5 L1215.4 1291.3 L1218.4 1291.9 L1221.6 1292.5 L1225.0 1293.0 L1228.9 1293.5 L1233.3 1293.9 L1237.2 1294.3 L1240.0 1294.5" stroke="#ffa500" stroke-width="4.0"/>
<path d="M1050.0 1294.5 L1052.1 1294.4 L1055.2 1294.2 L1058.7 1293.9 L1062.5 1293.5 L1066.7 1292.9 L1071.4 1292.2 L1076.0 1291.4 L1080.0 1290.5 L1083.1 1289.6 L1085.6 1288.6 L1087.9 1287.4 L1090.0 1286.0 L1092.1 1284.3 L1094.0 1282.4 L1095.8 1280.3 L1097.5 1278.0 L1099.2 1275.6 L1100.8 1273.1 L1102.3 1270.3 L1103.8 1267.0 L1105.1 1263.1 L1106.4 1258.8 L1107.6 1254.2 L1108.8 1249.5 L1109.8 1244.8 L1110.8 1240.0 L1111.6 1234.9 L1112.5 1229.5 L1113.3 1223.6 L1114.1 1217.3 L1114.8 1210.9 L1115.5 1204.5 L1116.2 1198.2 L1116.8 1192.0 L1117.4 1185.8 L1118.0 1179.5 L1118.5 1173.2 L1119.0 1167.0 L1119.5 1160.8 L1120.0 1154.5 L1120.5 1148.2 L1120.9 1142.0 L1121.4 1135.8 L1121.8 1129.5 L1122.1 1123.0 L1122.4 1116.2 L1122.7 1109.9 L1123.0 1104.5 L1123.2 1101.0 L1123.3 1098.9 L1123.5 1096.4 L1123.8 1092.0 L1124.1 1084.7 L1124.6 1075.7 L1125.1 1065.9 L1125.5 1056.5 L1126.0 1047.6 L1126.4 1038.8 L1126.9 1029.9 L1127.3 1021.0 L1127.8 1012.1 L1128.2 1003.2 L1128.7 994.4 L1129.1 985.5 L1129.6 976.6 L1130.0 967.6 L1130.5 958.7 L1130.9 950.0 L1131.3 941.5 L1131.8 933.2 L1132.2 924.9 L1132.7 916.7 L1133.2 908.3 L1133.6 900.0 L1134.0 891.7 L1134.5 883.3 L1135.0 875.2 L1135.4 867.1 L1135.9 858.8 L1136.3 850.0 L1136.7 840.3 L1137.1 830.1 L1137.5 819.7 L1137.9 809.3 L1138.3 799.2 L1138.8 789.0 L1139.2 778.8 L1139.6 768.7 L1140.0 758.5 L1140.4 748.4 L1140.8 738.2 L1141.2 728.0 L1141.5 717.8 L1141.8 707.5 L1142.1 697.3 L1142.4 687.0 L1142.7 676.8 L1143.0 666.5 L1143.3 656.2 L1143.7 646.0 L1144.0 635.8 L1144.3 625.5 L1144.6 615.2 L1144.9 605.0 L1145.2 594.8 L1145.5 584.5 L1145.8 574.2 L1146.1 564.0 L1146.4 553.8 L1146.7 543.5 L1147.0 533.2 L1147.3 523.0 L1147.6 512.8 L1147.9 502.5 L1148.2 492.2 L1148.5 482.0 L1148.9 471.8 L1149.2 461.5 L1149.5 451.2 L1149.8 441.0 L1150.1 430.7 L1150.4 420.3 L1150.7 410.0 L1151.0 400.0 L1151.2 390.4 L1151.4 381.0 L1151.6 371.8 L1151.8 362.5 L1151.9 353.1 L1152.1 343.8 L1152.3 334.4 L1152.5 325.0 L1152.8 315.6 L1153.1 306.2 L1153.4 296.9 L1153.8 287.5 L1154.1 278.1 L1154.4 268.6 L1154.7 259.2 L1155.0 250.0 L1155.3 241.1 L1155.6 232.3 L1155.9 223.7 L1156.2 215.0 L1156.6 206.2 L1156.8 197.5 L1157.2 188.8 L1157.5 180.0 L1157.9 171.2 L1158.3 162.5 L1158.8 153.8 L1159.2 145.0 L1159.7 136.2 L1160.2 127.5 L1160.7 118.8 L1161.2 110.0 L1161.8 101.0 L1162.5 91.7 L1163.1 82.9 L1163.8 75.0 L1164.4 68.2 L1165.0 62.3 L1165.6 57.0 L1166.2 52.5 L1166.9 48.7 L1167.5 45.7 L1168.1 43.2 L1168.8 41.2 L1169.3 39.8 L1169.9 38.9 L1170.5 38.4 L1171.2 38.0 L1172.1 37.7 L1173.0 37.6 L1174.0 37.7 L1175.0 38.0 L1175.9 38.6 L1176.8 39.4 L1177.7 40.3 L1178.8 41.2 L1179.9 42.2 L1181.1 43.2 L1182.4 44.1 L1183.8 45.0 L1185.3 45.8 L1187.0 46.5 L1188.6 47.2 L1190.0 47.5 L1191.1 47.4 L1192.0 47.1 L1192.9 46.7 L1193.8 46.5 L1194.7 46.7 L1195.6 47.0 L1196.6 47.4 L1197.5 47.5 L1198.4 47.2 L1199.4 46.7 L1200.3 46.1 L1201.2 45.8 L1202.2 45.7 L1203.1 45.9 L1204.1 46.1 L1205.0 46.0 L1205.9 45.6 L1206.9 44.9 L1207.8 44.2 L1208.8 43.8 L1209.7 43.6 L1210.6 43.6 L1211.6 43.6 L1212.5 43.5 L1213.4 43.1 L1214.4 42.5 L1215.3 41.9 L1216.2 41.5 L1217.2 41.3 L1218.1 41.2 L1219.1 41.2 L1220.0 41.0 L1220.9 40.6 L1221.9 40.1 L1222.8 39.6 L1223.8 39.2 L1224.7 39.2 L1225.6 39.4 L1226.6 39.5 L1227.5 39.5 L1228.4 39.1 L1229.4 38.5 L1230.3 37.9 L1231.2 37.5 L1232.2 37.4 L1233.1 37.5 L1234.1 37.7 L1235.0 38.0 L1235.9 38.4 L1236.9 38.9 L1237.8 39.3 L1238.8 39.5 L1239.6 39.4 L1240.4 39.1 L1241.3 38.7 L1242.5 38.2 L1244.1 37.8 L1245.9 37.3 L1247.9 36.8 L1250.0 36.2 L1252.3 35.6 L1254.8 35.0 L1257.4 34.3 L1260.0 33.8 L1262.5 33.3 L1265.0 33.0 L1267.5 32.7 L1270.0 32.5 L1272.5 32.4 L1275.0 32.4 L1277.5 32.4 L1280.0 32.5 L1282.5 32.6 L1285.0 32.7 L1287.5 32.8 L1290.0 33.0 L1292.5 33.3 L1295.0 33.6 L1297.5 34.0 L1300.0 34.5 L1302.5 35.0 L1305.0 35.6 L1307.5 36.2 L1310.0 36.8 L1312.6 37.3 L1315.2 37.9 L1317.7 38.4 L1320.0 38.8 L1322.1 38.9 L1323.9 39.0 L1325.7 38.9 L1327.5 38.8 L1329.4 38.5 L1331.2 38.0 L1333.1 37.5 L1335.0 37.0 L1336.9 36.4 L1338.8 35.6 L1340.6 34.9 L1342.5 34.2 L1344.4 33.7 L1346.2 33.2 L1348.1 32.7 L1350.0 32.5 L1351.9 32.5 L1353.8 32.6 L1355.6 32.8 L1357.5 33.2 L1359.4 33.8 L1361.2 34.4 L1363.1 35.2 L1365.0 36.2 L1366.9 37.6 L1368.8 39.3 L1370.6 41.0 L1372.5 42.5 L1374.4 43.8 L1376.3 45.1 L1378.2 46.2 L1380.0 47.0 L1381.7 47.6 L1383.2 47.9 L1384.7 48.0 L1386.2 48.0 L1387.7 47.8 L1389.1 47.5 L1390.7 47.0 L1392.5 46.2 L1394.7 45.2 L1397.3 43.9 L1399.9 42.5 L1402.5 41.2 L1405.0 40.2 L1407.5 39.2 L1410.0 38.3 L1412.5 37.5 L1415.0 36.9 L1417.5 36.4 L1420.0 36.0 L1422.5 35.8 L1425.0 35.6 L1427.5 35.5 L1430.0 35.5 L1432.5 35.5 L1435.0 35.6 L1437.5 35.8 L1440.0 36.0 L1442.5 36.2 L1445.0 36.6 L1447.5 37.1 L1450.0 37.6 L1452.5 38.0 L1455.1 38.4 L1457.7 38.9 L1460.2 39.3 L1462.5 39.5 L1464.5 39.6 L1466.2 39.6 L1468.0 39.5 L1470.0 39.2 L1472.3 38.9 L1474.8 38.4 L1477.4 37.9 L1480.0 37.5 L1482.5 37.2 L1485.0 37.1 L1487.5 37.0 L1490.0 37.0 L1492.6 37.2 L1495.2 37.5 L1497.7 37.9 L1500.0 38.2 L1502.1 38.5 L1504.1 38.8 L1505.9 39.0 L1507.5 39.2 L1509.0 39.4 L1510.3 39.5 L1511.5 39.7 L1512.5 40.0 L1513.3 40.4 L1513.9 40.9 L1514.4 41.6 L1515.0 42.5 L1515.7 43.7 L1516.5 45.1 L1517.3 46.7 L1518.0 48.8 L1518.7 51.0 L1519.3 53.5 L1519.9 56.5 L1520.5 60.0 L1521.1 64.3 L1521.8 69.1 L1522.4 74.4 L1523.0 80.0 L1523.5 85.8 L1524.0 91.9 L1524.5 98.3 L1525.0 105.0 L1525.5 112.1 L1525.9 119.7 L1526.3 127.4 L1526.8 135.0 L1527.1 142.5 L1527.5 150.0 L1527.9 157.5 L1528.2 165.0 L1528.6 172.5 L1528.9 180.0 L1529.2 187.5 L1529.5 195.0 L1529.8 202.5 L1530.1 210.0 L1530.4 217.5 L1530.8 225.0 L1531.1 232.4 L1531.4 239.8 L1531.7 247.3 L1532.0 255.0 L1532.3 262.9 L1532.6 271.1 L1533.0 279.3 L1533.2 287.5 L1533.5 295.7 L1533.8 303.9 L1534.0 312.1 L1534.2 320.0 L1534.5 328.1 L1534.7 336.2 L1534.8 343.7 L1535.0 350.0 L1535.1 354.0 L1535.2 356.3 L1535.3 359.0 L1535.5 364.0 L1535.7 372.3 L1535.9 382.6 L1536.2 393.7 L1536.4 404.4 L1536.7 414.6 L1536.9 424.7 L1537.2 434.8 L1537.4 444.9 L1537.6 455.0 L1537.9 465.1 L1538.1 475.2 L1538.3 485.3 L1538.6 495.4 L1538.8 505.6 L1539.0 515.7 L1539.3 525.8 L1539.5 535.9 L1539.8 546.0 L1540.0 556.1 L1540.2 566.2 L1540.5 576.3 L1540.7 586.4 L1540.9 596.6 L1541.2 606.7 L1541.4 616.8 L1541.6 626.9 L1541.9 637.0 L1542.1 647.1 L1542.3 657.2 L1542.6 667.3 L1542.8 677.4 L1543.1 687.6 L1543.3 697.7 L1543.5 707.8 L1543.7 717.9 L1544.0 728.0 L1544.3 738.1 L1544.7 748.2 L1545.1 758.3 L1545.5 768.4 L1545.9 778.6 L1546.2 788.7 L1546.6 798.8 L1547.0 808.9 L1547.4 819.0 L1547.8 829.1 L1548.1 839.2 L1548.5 849.3 L1548.9 859.4 L1549.2 869.6 L1549.6 879.7 L1550.0 889.8 L1550.4 899.9 L1550.8 910.0 L1551.1 920.1 L1551.5 930.2 L1551.9 940.3 L1552.2 950.4 L1552.6 960.6 L1553.0 970.7 L1553.4 980.8 L1553.8 990.9 L1554.1 1001.0 L1554.5 1011.1 L1554.9 1021.2 L1555.2 1031.3 L1555.6 1041.4 L1556.0 1051.6 L1556.4 1062.0 L1556.8 1072.7 L1557.1 1083.0 L1557.5 1092.0 L1557.8 1099.2 L1558.1 1105.2 L1558.4 1110.8 L1558.8 1117.0 L1559.1 1124.1 L1559.5 1131.7 L1560.0 1139.4 L1560.5 1147.0 L1561.1 1154.6 L1561.7 1162.2 L1562.3 1169.7 L1563.0 1177.0 L1563.7 1184.2 L1564.5 1191.2 L1565.4 1198.0 L1566.2 1204.5 L1567.1 1210.5 L1568.0 1216.2 L1569.0 1221.7 L1570.0 1227.0 L1571.1 1232.3 L1572.3 1237.5 L1573.6 1242.4 L1575.0 1247.0 L1576.4 1251.2 L1578.0 1255.0 L1579.6 1258.5 L1581.2 1262.0 L1583.0 1265.4 L1584.8 1268.7 L1586.8 1271.8 L1588.8 1274.5 L1590.8 1276.9 L1592.9 1278.9 L1595.1 1280.7 L1597.5 1282.5 L1600.1 1284.2 L1602.8 1285.8 L1605.7 1287.2 L1608.8 1288.5 L1611.9 1289.6 L1615.2 1290.5 L1618.7 1291.3 L1622.5 1292.0 L1626.8 1292.6 L1631.6 1293.2 L1636.2 1293.6 L1640.0 1294.0 L1642.9 1294.2 L1645.1 1294.4 L1646.8 1294.4 L1648.0 1294.5" stroke="#ff6347" stroke-width="4.0"/>
</g>
<rect x="187.10" y="24.70" width="1461.10" height="1269.90" fill="none" stroke="#000" stroke-width="6.6"/>
<g clip-path="url(#pc2)" fill="none" stroke-linejoin="round" stroke-linecap="butt">
<path d="M322.5 1025.0 L324.5 1025.1 L327.4 1025.1 L330.0 1024.2 L331.9 1021.9 L333.4 1018.6 L335.0 1015.5 L336.6 1012.9 L338.2 1010.4 L340.0 1008.0 L342.0 1005.9 L344.1 1004.0 L346.2 1001.8 L348.3 998.8 L350.3 995.6 L352.5 993.0 L354.9 991.6 L357.5 990.8 L360.0 989.2 L362.5 986.5 L365.0 983.0 L367.5 979.2 L370.1 975.1 L372.7 970.7 L375.0 966.8 L376.8 963.6 L378.2 960.8 L380.0 958.0 L382.4 954.9 L385.1 951.9 L387.5 949.2 L389.4 947.2 L390.9 945.6 L392.5 944.2 L394.1 943.6 L395.6 943.3 L397.5 941.8 L399.9 937.6 L402.6 932.3 L405.0 928.0 L406.8 925.9 L408.3 924.9 L410.0 924.2 L412.0 924.0 L414.1 924.1 L416.2 923.0 L418.4 919.8 L420.5 915.4 L422.5 911.8 L424.3 909.5 L425.9 908.0 L427.5 906.8 L429.1 906.0 L430.6 905.5 L432.5 904.2 L434.8 901.7 L437.4 898.4 L440.0 895.5 L442.5 893.8 L445.0 892.6 L447.5 890.5 L450.0 886.6 L452.5 881.9 L455.0 878.0 L457.5 875.9 L460.0 874.7 L462.5 873.0 L465.0 870.4 L467.5 867.3 L470.0 864.2 L472.5 861.3 L475.0 858.4 L477.5 855.5 L480.0 852.5 L482.5 849.5 L485.0 846.8 L487.5 844.4 L490.0 842.4 L492.5 840.5 L495.0 838.7 L497.5 837.1 L500.0 835.5 L502.5 833.9 L505.0 832.3 L507.5 830.5 L510.0 828.6 L512.5 826.6 L515.0 824.2 L517.5 821.5 L520.0 818.4 L522.5 815.5 L525.0 813.0 L527.5 810.5 L530.0 808.0 L532.5 805.2 L535.0 802.2 L537.5 799.2 L540.0 796.3 L542.5 793.4 L545.0 790.5 L547.5 787.6 L550.0 784.8 L552.5 781.8 L555.0 778.4 L557.5 774.9 L560.0 771.8 L562.5 769.0 L565.0 766.6 L567.5 764.2 L570.0 762.1 L572.5 760.0 L575.0 758.0 L577.5 756.0 L580.0 753.9 L582.5 751.8 L584.9 749.3 L587.3 746.7 L590.0 744.2 L593.1 742.0 L596.5 739.9 L600.0 738.0 L603.6 736.4 L607.3 734.9 L611.2 733.0 L615.8 730.2 L620.6 727.0 L625.0 724.0 L628.6 721.4 L631.8 719.0 L635.0 716.5 L638.3 713.6 L641.7 710.6 L645.0 707.8 L648.4 705.2 L651.9 702.7 L655.0 700.2 L657.7 697.6 L660.1 694.9 L662.5 692.8 L665.0 691.7 L667.5 691.3 L670.0 690.2 L672.5 688.2 L675.0 685.5 L677.5 682.8 L680.0 679.9 L682.5 676.9 L685.0 674.0 L687.5 671.2 L690.1 668.5 L692.5 666.5 L694.6 665.9 L696.5 666.0 L698.8 665.2 L701.5 662.7 L704.5 659.3 L707.5 656.5 L710.5 655.0 L713.5 654.0 L716.2 652.8 L718.5 650.9 L720.5 648.7 L722.5 646.5 L724.6 644.2 L726.8 642.0 L728.8 640.2 L730.4 639.8 L731.9 639.9 L733.8 639.0 L736.4 636.1 L739.5 632.2 L742.5 629.0 L745.0 627.5 L747.5 626.6 L750.0 625.2 L752.8 622.7 L755.8 619.6 L758.8 616.5 L761.8 613.4 L764.8 610.2 L767.5 607.8 L769.7 606.4 L771.7 605.8 L773.8 605.2 L776.2 604.9 L778.7 604.7 L781.2 604.0 L783.8 602.3 L786.3 600.1 L788.8 597.8 L790.8 595.3 L792.7 592.7 L795.0 590.2 L798.1 588.1 L801.5 586.0 L805.0 584.0 L808.4 581.7 L811.9 579.4 L815.0 577.8 L817.7 577.2 L820.1 577.3 L822.5 577.0 L825.0 575.7 L827.5 574.1 L830.0 572.8 L832.5 572.3 L835.0 572.2 L837.5 571.5 L840.0 569.7 L842.5 567.3 L845.0 565.2 L847.5 563.9 L850.0 562.8 L852.5 561.5 L855.0 559.4 L857.5 557.1 L860.0 555.2 L862.4 554.6 L864.8 554.6 L867.5 554.0 L870.6 552.1 L874.1 549.7 L877.5 547.8 L880.8 546.6 L884.2 545.8 L887.5 545.2 L890.9 544.9 L894.4 544.7 L897.5 544.5 L900.3 544.4 L902.8 544.3 L905.0 544.0 L906.9 543.6 L908.4 543.0 L910.0 542.0 L911.7 540.4 L913.3 538.3 L915.0 536.5 L916.6 535.0 L918.2 533.6 L920.0 532.8 L922.0 532.8 L924.2 533.3 L926.2 533.5 L928.1 533.1 L929.7 532.3 L931.2 531.5 L932.6 530.5 L933.8 529.5 L935.0 529.0 L936.2 529.4 L937.5 530.3 L938.8 531.5 L940.0 533.2 L941.2 535.1 L942.5 536.0 L944.0 535.0 L945.7 533.0 L947.5 531.5 L949.5 531.4 L951.6 531.9 L953.8 532.0 L955.8 531.1 L957.8 529.8 L960.0 529.0 L962.5 528.9 L965.0 529.3 L967.5 530.2 L969.7 532.0 L971.8 534.2 L973.8 536.5 L975.5 538.6 L977.0 540.8 L978.8 542.8 L980.7 544.6 L982.8 546.3 L985.0 547.8 L987.3 548.7 L989.8 549.3 L992.5 550.2 L995.7 551.9 L999.3 553.7 L1002.5 555.2 L1005.1 556.1 L1007.5 556.6 L1010.0 557.0 L1012.9 557.5 L1016.0 557.9 L1018.8 558.5 L1021.0 559.4 L1023.0 560.4 L1025.0 561.5 L1027.1 563.0 L1029.3 564.5 L1031.2 565.2 L1033.1 564.2 L1034.8 562.4 L1036.2 561.5 L1037.3 562.3 L1038.0 564.1 L1038.8 566.5 L1039.6 569.6 L1040.4 573.4 L1041.2 576.5 L1042.0 578.8 L1042.7 580.5 L1043.8 581.5 L1045.2 581.0 L1047.0 579.8 L1048.8 579.5 L1050.4 581.4 L1052.1 584.4 L1053.8 586.5 L1055.5 586.6 L1057.2 585.9 L1058.8 586.0 L1060.0 588.3 L1061.2 591.4 L1062.5 593.5 L1064.1 593.2 L1065.8 591.9 L1067.5 591.5 L1069.2 592.9 L1070.8 595.3 L1072.5 597.8 L1074.2 600.2 L1075.8 602.7 L1077.5 605.2 L1079.1 608.2 L1080.8 611.2 L1082.5 612.8 L1084.3 611.6 L1086.2 609.1 L1088.0 607.8 L1089.6 608.7 L1091.0 610.7 L1092.5 612.8 L1094.0 614.5 L1095.6 616.2 L1097.5 617.8 L1099.8 619.1 L1102.4 620.4 L1105.0 621.5 L1107.4 622.4 L1109.8 623.2 L1112.5 624.5 L1115.6 626.5 L1119.1 629.0 L1122.5 631.5 L1125.8 634.0 L1129.2 636.4 L1132.5 638.5 L1135.9 639.8 L1139.4 640.7 L1142.5 642.0 L1145.1 644.0 L1147.4 646.3 L1150.0 649.0 L1153.1 652.2 L1156.6 655.6 L1160.0 659.0 L1163.3 662.1 L1166.7 665.0 L1170.0 667.8 L1173.3 670.4 L1176.7 672.9 L1180.0 675.2 L1183.3 677.3 L1186.7 679.2 L1190.0 681.0 L1193.3 682.8 L1196.7 684.6 L1200.0 686.0 L1203.2 686.9 L1206.5 687.4 L1210.0 688.2 L1214.0 689.7 L1218.2 691.4 L1222.5 692.8 L1226.7 693.5 L1230.8 693.8 L1235.0 693.5 L1239.2 692.3 L1243.3 690.5 L1247.5 689.0 L1251.7 688.2 L1255.8 687.8 L1260.0 687.8 L1264.2 688.3 L1268.3 689.3 L1272.5 690.2 L1276.7 690.9 L1280.8 691.5 L1285.0 692.0 L1289.2 692.2 L1293.3 692.3 L1297.5 692.8 L1301.7 694.0 L1305.8 695.5 L1310.0 696.5 L1314.2 696.5 L1318.3 696.0 L1322.5 695.2 L1326.7 694.3 L1330.8 693.1 L1335.0 691.5 L1339.3 689.3 L1343.5 686.6 L1347.5 684.0 L1351.1 681.4 L1354.4 678.8 L1357.5 676.5 L1360.1 674.7 L1362.4 673.2 L1365.0 671.5 L1368.1 669.4 L1371.4 667.2 L1375.0 665.2 L1379.1 663.8 L1383.4 662.6 L1387.5 661.5 L1390.9 660.6 L1394.1 659.9 L1397.5 659.0 L1401.5 658.0 L1405.7 656.9 L1410.0 655.2 L1414.1 652.8 L1418.1 649.7 L1422.5 646.5 L1427.3 643.2 L1432.4 639.7 L1437.5 636.5 L1442.4 633.8 L1447.3 631.4 L1452.5 629.0 L1458.1 626.5 L1464.1 624.0 L1470.0 621.5 L1475.8 618.9 L1481.7 616.3 L1487.5 614.0 L1493.4 612.1 L1499.4 610.5 L1505.0 609.0 L1510.1 607.8 L1514.9 606.7 L1520.0 605.2 L1525.7 602.8 L1531.8 599.9 L1537.5 597.8 L1542.8 597.0 L1547.8 597.0 L1552.5 596.5 L1556.8 595.2 L1560.7 593.4 L1565.0 591.5 L1569.7 589.6 L1574.7 587.5 L1580.0 585.2 L1585.9 582.8 L1592.0 580.3 L1597.5 577.8 L1601.7 575.3 L1605.2 572.8 L1608.8 570.2 L1612.5 567.3 L1616.2 564.3 L1620.0 561.5 L1623.9 559.4 L1627.9 557.5 L1632.5 555.2 L1638.6 551.8 L1645.3 548.0 L1650.0 545.2" stroke="#f20000" stroke-width="10.7"/>
<path d="M323.6 841.3 L325.9 843.7 L329.1 846.9 L331.9 849.0 L333.7 849.1 L335.0 848.0 L336.3 846.3 L337.8 843.9 L339.2 840.9 L340.7 838.6 L342.2 837.6 L343.6 837.4 L345.1 837.5 L346.5 837.9 L348.0 838.7 L349.5 839.1 L351.3 839.2 L353.2 839.1 L354.9 838.0 L356.1 835.6 L357.1 832.2 L358.2 828.7 L359.5 824.7 L360.9 820.6 L362.1 817.7 L363.1 816.7 L363.9 817.0 L364.8 818.2 L365.8 820.5 L366.9 823.7 L368.1 826.5 L369.5 828.5 L371.0 830.1 L372.5 830.9 L373.9 830.7 L375.4 829.6 L376.9 828.1 L378.7 826.0 L380.6 823.4 L382.4 821.0 L384.0 818.8 L385.5 816.9 L386.8 815.5 L388.0 814.9 L389.0 815.0 L390.1 815.5 L391.2 816.7 L392.3 818.4 L393.4 819.9 L394.5 821.0 L395.5 821.8 L396.7 822.1 L398.1 821.5 L399.6 820.4 L401.1 819.3 L402.5 818.5 L404.0 817.7 L405.5 817.1 L407.3 816.7 L409.1 816.4 L411.0 816.0 L412.8 815.9 L414.6 815.7 L416.5 814.4 L418.5 811.1 L420.6 806.7 L422.5 803.0 L423.9 800.3 L425.1 798.3 L426.2 798.0 L427.5 800.5 L428.7 804.8 L430.0 808.0 L431.6 809.2 L433.3 809.5 L435.0 809.2 L436.6 808.2 L438.2 806.6 L440.0 805.5 L441.9 805.8 L443.9 806.6 L446.2 806.8 L448.9 805.3 L451.9 803.2 L455.0 801.8 L458.2 801.8 L461.6 802.6 L465.0 803.0 L468.4 802.5 L471.9 801.7 L475.0 800.5 L477.6 799.0 L480.0 797.3 L482.5 795.5 L485.5 793.4 L488.7 791.2 L491.2 790.5 L492.9 791.9 L493.9 794.8 L495.0 798.0 L496.2 801.8 L497.3 805.9 L498.8 809.2 L500.6 811.3 L502.8 812.6 L505.0 813.0 L507.1 812.5 L509.2 811.1 L511.2 809.2 L513.3 806.7 L515.3 803.5 L517.5 800.5 L519.8 797.8 L522.3 795.3 L525.0 793.0 L528.1 791.1 L531.4 789.4 L535.0 788.0 L539.0 786.9 L543.2 786.1 L547.5 785.5 L551.8 785.0 L556.0 784.7 L560.0 784.2 L563.6 783.5 L566.9 782.5 L570.0 781.8 L572.8 781.1 L575.3 780.6 L577.5 780.5 L579.4 781.5 L580.9 782.9 L582.5 783.5 L584.0 782.4 L585.5 780.4 L587.5 779.2 L590.6 779.7 L594.2 781.0 L597.5 781.8 L600.1 781.4 L602.4 780.5 L605.0 780.0 L608.1 780.1 L611.4 780.5 L615.0 781.0 L619.0 781.6 L623.2 782.3 L627.5 782.5 L631.6 781.8 L635.6 780.5 L640.0 779.2 L644.9 778.1 L650.1 776.9 L655.0 776.0 L659.5 775.5 L663.7 775.2 L667.5 775.0 L670.8 774.8 L673.7 774.7 L676.2 774.2 L678.5 773.0 L680.4 771.4 L682.5 770.5 L684.9 771.1 L687.5 772.4 L690.0 773.5 L692.5 774.0 L695.0 774.3 L697.5 774.2 L699.9 773.5 L702.3 772.4 L705.0 771.8 L708.1 772.1 L711.6 773.0 L715.0 773.5 L718.3 773.1 L721.7 772.4 L725.0 771.8 L728.3 771.4 L731.7 771.1 L735.0 771.0 L738.4 771.2 L741.9 771.6 L745.0 771.8 L747.6 771.4 L749.9 770.8 L752.5 770.5 L755.6 770.9 L759.1 771.7 L762.5 772.2 L765.8 772.6 L769.2 772.9 L772.5 772.5 L776.0 771.0 L779.4 768.9 L782.5 767.5 L784.8 767.7 L786.6 768.7 L788.8 769.2 L791.4 768.7 L794.4 767.6 L797.5 766.8 L800.8 766.4 L804.3 766.2 L807.5 766.2 L810.2 767.0 L812.6 768.0 L815.0 768.0 L817.6 765.7 L820.2 762.4 L822.5 760.5 L824.3 761.1 L825.8 763.0 L827.5 765.5 L829.4 768.8 L831.4 772.7 L833.8 775.0 L836.3 774.7 L839.2 772.9 L842.5 771.0 L846.4 769.2 L850.7 767.3 L855.0 766.0 L859.2 765.8 L863.3 766.2 L867.5 766.8 L871.7 767.3 L875.8 767.9 L880.0 768.5 L884.3 768.9 L888.5 769.3 L892.5 770.0 L896.1 771.2 L899.4 772.7 L902.5 773.8 L905.1 774.2 L907.4 774.2 L910.0 773.8 L913.2 772.6 L916.8 771.0 L920.0 769.2 L922.7 767.3 L925.2 765.4 L927.5 764.2 L929.5 764.6 L931.3 765.8 L933.8 766.8 L937.1 767.0 L941.0 767.0 L945.0 766.8 L949.2 765.9 L953.5 764.9 L957.5 764.2 L961.0 764.4 L964.3 764.9 L967.5 766.0 L970.8 768.0 L974.2 770.4 L977.5 772.2 L980.8 773.1 L984.2 773.4 L987.5 773.0 L990.8 771.5 L994.2 769.3 L997.5 767.5 L1000.7 766.6 L1004.0 766.1 L1007.5 766.0 L1011.6 766.5 L1015.9 767.4 L1020.0 768.0 L1023.6 768.1 L1026.9 767.8 L1030.0 767.5 L1033.1 766.9 L1036.0 766.2 L1038.8 766.0 L1041.4 766.7 L1043.9 768.0 L1046.2 769.2 L1048.4 770.7 L1050.4 772.2 L1052.5 773.0 L1054.8 772.4 L1057.3 771.1 L1060.0 770.0 L1063.2 769.2 L1066.8 768.5 L1070.0 768.5 L1072.7 769.4 L1075.2 771.0 L1077.5 773.0 L1079.7 776.4 L1081.8 780.2 L1083.8 781.8 L1085.5 778.6 L1087.1 773.2 L1088.8 769.2 L1090.4 768.6 L1092.1 769.4 L1093.8 770.5 L1095.2 771.7 L1096.7 773.1 L1098.8 773.5 L1101.8 772.1 L1105.3 769.7 L1108.8 768.0 L1111.7 767.5 L1114.5 767.6 L1117.5 768.0 L1120.7 768.8 L1124.1 769.8 L1127.5 770.5 L1130.8 770.6 L1134.2 770.4 L1137.5 770.0 L1140.8 769.2 L1144.2 768.1 L1147.5 768.0 L1150.7 769.5 L1154.0 771.9 L1157.5 773.8 L1161.4 774.5 L1165.6 774.7 L1170.0 775.0 L1174.8 775.5 L1179.9 776.1 L1185.0 776.8 L1190.0 777.5 L1195.0 778.2 L1200.0 778.8 L1204.8 779.0 L1209.6 779.0 L1215.0 779.2 L1221.7 780.0 L1228.9 781.0 L1235.0 781.2 L1239.1 780.2 L1242.0 778.4 L1245.0 776.8 L1248.3 775.5 L1251.7 774.5 L1255.0 773.8 L1258.2 773.4 L1261.5 773.4 L1265.0 773.8 L1269.1 774.7 L1273.4 776.1 L1277.5 777.2 L1281.0 777.9 L1284.3 778.4 L1287.5 779.2 L1290.8 781.0 L1294.2 783.0 L1297.5 784.2 L1300.7 783.7 L1304.0 782.4 L1307.5 781.8 L1311.5 782.8 L1315.7 784.6 L1320.0 786.0 L1324.3 786.4 L1328.5 786.3 L1332.5 786.0 L1336.0 785.7 L1339.3 785.1 L1342.5 784.2 L1345.7 782.8 L1349.0 781.1 L1352.5 779.2 L1356.5 777.1 L1360.7 775.0 L1365.0 773.8 L1369.2 774.2 L1373.3 775.6 L1377.5 776.8 L1381.5 777.2 L1385.5 777.4 L1390.0 778.0 L1395.5 779.6 L1401.5 781.5 L1407.5 783.0 L1413.4 783.6 L1419.4 783.8 L1425.0 783.5 L1430.0 782.7 L1434.7 781.5 L1440.0 780.5 L1446.4 780.0 L1453.3 779.7 L1460.0 779.8 L1466.0 780.3 L1471.8 781.1 L1477.5 781.8 L1483.2 782.1 L1489.0 782.4 L1495.0 782.5 L1501.5 782.5 L1508.2 782.4 L1515.0 782.2 L1521.9 782.0 L1528.9 781.6 L1535.0 781.2 L1539.5 780.8 L1543.2 780.3 L1547.5 780.0 L1552.9 780.0 L1558.8 780.2 L1565.0 780.5 L1571.6 780.8 L1578.4 781.1 L1585.0 781.2 L1590.8 781.0 L1596.4 780.5 L1602.5 780.0 L1609.5 779.3 L1617.1 778.5 L1625.0 778.0 L1634.1 778.2 L1643.4 778.8 L1650.0 779.2" stroke="#3200e6" stroke-width="10.7"/>
<path d="M323.6 891.3 L325.1 889.7 L327.2 887.3 L329.1 884.7 L330.6 882.0 L331.9 879.1 L333.0 875.9 L333.8 872.1 L334.5 868.1 L335.2 864.9 L336.0 862.9 L336.9 861.6 L337.9 861.1 L339.3 861.9 L340.8 863.4 L342.3 863.8 L343.7 861.5 L345.0 858.2 L346.2 856.2 L347.4 857.1 L348.5 859.4 L349.5 861.6 L350.4 863.7 L351.2 865.8 L352.2 866.0 L353.7 862.5 L355.4 857.2 L357.1 854.0 L358.7 855.3 L360.2 858.8 L361.5 861.6 L362.3 862.7 L362.9 863.1 L363.7 862.7 L365.0 860.9 L366.5 858.3 L368.1 856.2 L369.9 855.4 L371.8 855.2 L373.6 854.5 L375.2 852.8 L376.6 850.6 L378.0 848.5 L379.3 846.5 L380.5 844.5 L381.9 843.0 L383.4 842.5 L385.0 842.6 L386.8 841.9 L388.8 839.5 L390.9 836.5 L392.9 834.7 L394.6 835.4 L396.2 837.3 L397.8 839.1 L399.5 840.5 L401.1 841.6 L402.7 841.9 L404.2 840.7 L405.7 838.6 L407.1 836.4 L408.5 834.1 L409.8 831.6 L411.0 829.8 L412.1 829.0 L413.2 828.8 L414.3 829.2 L415.5 830.7 L416.7 832.8 L418.1 833.6 L419.8 831.9 L421.8 828.9 L423.6 827.0 L425.1 827.2 L426.5 828.4 L428.0 829.8 L429.6 831.3 L431.3 832.9 L433.0 833.6 L434.8 832.6 L436.6 830.6 L438.5 828.7 L440.3 827.3 L442.2 826.0 L444.0 824.8 L445.9 823.7 L447.8 822.6 L449.5 821.5 L451.0 820.1 L452.3 818.8 L453.3 818.2 L453.8 819.2 L454.1 821.0 L455.0 821.8 L457.1 820.3 L459.8 817.9 L462.5 815.5 L465.0 813.5 L467.5 811.6 L470.0 810.5 L472.5 810.9 L475.0 812.1 L477.5 812.5 L479.9 811.5 L482.3 809.7 L485.0 808.0 L488.1 806.7 L491.6 805.5 L495.0 804.2 L498.2 803.0 L501.5 801.7 L505.0 800.5 L509.1 799.5 L513.4 798.5 L517.5 797.5 L521.0 796.2 L524.3 794.8 L527.5 793.5 L530.7 792.5 L534.0 791.7 L537.5 790.5 L541.5 788.7 L545.7 786.5 L550.0 784.2 L554.2 782.1 L558.3 780.0 L562.5 778.0 L566.7 776.1 L570.8 774.4 L575.0 773.0 L579.3 771.9 L583.5 771.1 L587.5 770.5 L591.1 770.0 L594.4 769.6 L597.5 769.2 L600.2 768.7 L602.6 768.2 L605.0 768.0 L607.5 768.6 L610.1 769.6 L612.5 770.0 L614.6 769.1 L616.5 767.7 L618.8 766.8 L621.4 767.0 L624.4 767.8 L627.5 768.0 L630.7 767.1 L634.1 765.7 L637.5 764.2 L640.8 762.9 L644.2 761.5 L647.5 760.0 L651.0 757.9 L654.5 755.6 L657.5 754.2 L659.4 754.9 L660.8 756.6 L662.5 757.5 L664.8 756.8 L667.4 755.4 L670.0 754.2 L672.5 753.8 L675.0 753.7 L677.5 753.0 L680.0 751.2 L682.6 748.9 L685.0 747.5 L687.2 748.1 L689.2 749.6 L691.2 750.0 L693.3 748.1 L695.3 745.1 L697.5 743.0 L699.9 743.0 L702.5 743.9 L705.0 744.2 L707.4 743.3 L709.8 741.8 L712.5 740.5 L715.7 739.8 L719.2 739.2 L722.5 738.5 L725.6 737.2 L728.5 735.7 L731.2 735.0 L733.8 736.0 L736.2 737.7 L738.8 738.5 L741.5 737.4 L744.4 735.4 L747.5 733.5 L750.8 732.1 L754.1 730.8 L757.5 729.2 L760.7 727.2 L763.9 725.0 L767.2 723.4 L770.6 722.9 L774.0 723.1 L777.3 723.4 L780.5 723.9 L783.5 724.6 L786.2 724.7 L788.5 723.4 L790.5 721.5 L792.5 720.4 L794.5 721.3 L796.4 723.0 L798.8 723.9 L802.0 723.0 L805.6 721.3 L808.9 719.6 L811.5 718.1 L813.9 716.7 L816.5 715.8 L819.8 716.1 L823.4 716.9 L826.6 717.1 L829.0 715.8 L830.9 713.8 L832.9 712.5 L835.0 712.6 L837.1 713.5 L839.3 714.6 L841.7 716.4 L844.2 718.4 L846.8 718.8 L849.4 716.3 L852.1 712.2 L855.0 709.0 L858.2 707.6 L861.6 707.0 L865.0 706.5 L868.3 705.7 L871.7 704.9 L875.0 704.5 L878.3 704.5 L881.7 704.8 L885.0 705.2 L888.4 705.9 L891.9 706.6 L895.0 707.0 L897.7 706.8 L900.1 706.3 L902.5 705.2 L904.9 703.3 L907.3 700.8 L910.0 699.0 L913.1 698.4 L916.4 698.4 L920.0 698.5 L924.1 698.5 L928.4 698.6 L932.5 698.5 L936.2 698.1 L939.6 697.4 L942.5 696.5 L944.5 694.8 L946.0 692.8 L947.5 692.0 L949.2 693.6 L950.8 696.3 L952.5 697.8 L954.2 696.4 L955.8 693.8 L957.5 691.5 L959.1 690.2 L960.6 689.4 L962.5 689.0 L964.7 689.1 L967.2 689.6 L970.0 690.2 L973.2 691.0 L976.8 691.8 L980.0 692.8 L982.8 694.0 L985.3 695.2 L987.5 696.0 L989.2 695.6 L990.6 694.7 L992.5 694.5 L995.6 695.8 L999.2 697.7 L1002.5 699.0 L1005.1 699.1 L1007.4 698.5 L1010.0 697.8 L1013.2 696.9 L1016.8 695.9 L1020.0 695.2 L1022.8 695.3 L1025.3 695.6 L1027.5 695.2 L1029.4 693.3 L1031.0 690.7 L1032.5 689.0 L1033.7 689.1 L1034.7 690.2 L1036.2 691.5 L1038.8 692.9 L1042.0 694.5 L1045.0 695.2 L1047.5 694.3 L1049.9 692.5 L1052.5 691.5 L1055.6 692.1 L1059.1 693.6 L1062.5 695.2 L1065.8 697.1 L1069.2 699.1 L1072.5 700.2 L1075.7 699.9 L1079.0 698.6 L1082.5 697.8 L1086.7 697.7 L1091.1 698.1 L1095.0 698.2 L1097.8 697.9 L1100.0 697.4 L1102.5 697.2 L1105.7 697.7 L1109.3 698.5 L1112.5 699.0 L1115.2 698.7 L1117.6 698.1 L1120.0 697.8 L1122.5 697.9 L1125.0 698.3 L1127.5 698.2 L1130.0 697.5 L1132.4 696.3 L1135.0 695.2 L1137.9 694.2 L1141.0 693.1 L1143.8 692.8 L1145.9 693.3 L1147.8 694.6 L1150.0 696.0 L1152.7 697.8 L1155.7 699.8 L1158.8 701.0 L1161.6 700.7 L1164.5 699.7 L1167.5 699.0 L1170.7 699.4 L1174.0 700.1 L1177.5 700.2 L1181.2 699.1 L1185.0 697.4 L1188.8 696.5 L1192.5 697.1 L1196.3 698.5 L1200.0 699.5 L1203.2 699.7 L1206.3 699.4 L1210.0 699.0 L1214.7 698.5 L1220.0 697.7 L1225.0 696.5 L1229.4 694.6 L1233.6 692.2 L1237.5 690.2 L1240.9 689.2 L1244.1 688.6 L1247.5 687.8 L1251.4 686.4 L1255.6 684.8 L1260.0 683.5 L1265.1 682.5 L1270.5 681.8 L1275.0 681.5 L1278.1 682.0 L1280.4 683.0 L1282.5 684.0 L1284.6 685.1 L1286.5 686.2 L1288.8 686.5 L1291.4 685.1 L1294.4 682.8 L1297.5 681.5 L1300.7 682.3 L1304.1 684.1 L1307.5 685.2 L1310.7 684.9 L1314.0 683.8 L1317.5 682.8 L1321.5 682.2 L1325.7 681.8 L1330.0 681.0 L1334.3 679.8 L1338.5 678.2 L1342.5 676.5 L1346.1 674.6 L1349.4 672.5 L1352.5 670.2 L1355.3 667.7 L1357.8 665.0 L1360.0 662.8 L1361.6 661.4 L1362.9 660.4 L1365.0 659.5 L1368.6 658.3 L1373.1 657.1 L1377.5 656.0 L1381.8 655.1 L1386.0 654.4 L1390.0 654.0 L1393.5 654.1 L1396.8 654.6 L1400.0 655.2 L1403.4 656.4 L1406.9 657.7 L1410.0 658.5 L1412.5 658.5 L1414.7 657.9 L1417.5 657.0 L1421.2 655.8 L1425.5 654.2 L1430.0 652.8 L1434.8 651.5 L1439.9 650.3 L1445.0 649.0 L1450.0 647.3 L1455.0 645.5 L1460.0 644.0 L1465.0 643.1 L1470.0 642.6 L1475.0 642.0 L1480.0 641.1 L1485.0 640.0 L1490.0 639.0 L1495.0 638.1 L1500.0 637.2 L1505.0 636.5 L1510.2 636.0 L1515.4 635.7 L1520.0 635.2 L1523.7 634.6 L1526.9 633.7 L1530.0 632.8 L1533.2 631.5 L1536.5 630.1 L1540.0 629.0 L1544.0 628.4 L1548.2 628.2 L1552.5 627.8 L1556.6 627.1 L1560.6 626.2 L1565.0 625.2 L1569.8 624.1 L1574.9 622.7 L1580.0 621.5 L1585.1 620.4 L1590.3 619.3 L1595.0 618.5 L1599.0 618.2 L1602.6 618.2 L1606.2 617.8 L1610.0 616.3 L1613.7 614.3 L1617.5 612.8 L1621.3 612.1 L1625.2 611.8 L1630.0 611.5 L1636.9 611.0 L1644.5 610.6 L1650.0 610.2" stroke="#51009b" stroke-width="10.7"/>
<path d="M323.5 1113.5 L325.2 1112.7 L327.5 1111.4 L329.5 1109.0 L330.8 1104.7 L331.7 1099.3 L332.5 1094.0 L333.1 1089.3 L333.5 1084.7 L334.0 1080.0 L334.7 1075.3 L335.5 1070.6 L336.2 1065.5 L336.6 1059.4 L336.9 1052.9 L337.5 1048.0 L338.6 1045.4 L339.9 1044.2 L341.2 1044.2 L342.5 1045.6 L343.8 1048.1 L345.0 1050.5 L346.2 1053.2 L347.5 1055.7 L348.8 1055.5 L350.0 1050.8 L351.3 1043.3 L352.5 1035.5 L353.4 1027.5 L354.1 1019.2 L355.0 1013.0 L356.2 1009.9 L357.5 1009.0 L358.8 1009.2 L360.0 1011.0 L361.3 1014.0 L362.5 1016.8 L363.4 1019.4 L364.1 1021.8 L365.0 1021.8 L366.2 1017.7 L367.5 1011.2 L368.8 1005.5 L370.0 1001.1 L371.2 997.4 L372.5 995.5 L373.8 996.5 L375.1 999.2 L376.2 1001.8 L377.2 1004.1 L378.0 1006.1 L378.8 1005.5 L379.6 1000.5 L380.4 992.8 L381.2 985.5 L382.0 978.9 L382.8 972.7 L383.8 969.2 L384.9 970.4 L386.2 974.2 L387.5 978.0 L388.7 981.4 L389.9 984.6 L391.2 985.5 L392.8 982.5 L394.4 977.1 L396.2 971.8 L398.2 967.0 L400.4 962.2 L402.5 958.0 L404.6 954.1 L406.8 950.8 L408.8 949.2 L410.5 950.4 L412.0 953.4 L413.8 956.8 L415.8 961.5 L418.1 966.6 L420.0 968.0 L421.5 963.2 L422.7 954.6 L423.8 945.5 L424.6 935.8 L425.4 925.5 L426.2 918.0 L427.4 915.0 L428.7 914.8 L430.0 915.5 L431.2 917.4 L432.4 920.4 L433.8 921.8 L435.3 920.1 L437.0 917.0 L438.8 914.2 L440.4 912.4 L442.1 911.1 L443.8 910.5 L445.5 911.6 L447.2 913.5 L448.8 914.2 L450.1 913.0 L451.4 910.5 L452.5 908.0 L453.4 905.7 L454.2 903.2 L455.0 900.5 L455.8 897.2 L456.6 893.6 L457.5 890.5 L458.7 887.8 L460.0 885.5 L461.2 884.2 L462.5 884.7 L463.7 886.3 L465.0 888.0 L466.6 890.1 L468.4 892.4 L470.0 893.0 L471.4 891.0 L472.6 887.3 L473.8 883.0 L474.6 878.3 L475.4 873.0 L476.2 868.0 L477.4 863.5 L478.6 859.2 L480.0 855.5 L481.5 852.6 L483.2 850.2 L485.0 848.0 L487.0 845.9 L489.2 844.0 L491.2 841.8 L493.0 838.9 L494.6 835.8 L496.2 833.0 L497.9 830.6 L499.5 828.6 L501.2 826.8 L503.2 825.3 L505.4 824.2 L507.5 823.0 L509.6 821.9 L511.8 820.8 L513.8 819.2 L515.6 817.2 L517.2 814.7 L518.8 811.8 L520.0 808.0 L521.2 803.9 L522.5 800.5 L524.1 798.1 L525.9 796.4 L527.5 795.5 L528.8 796.3 L530.0 798.0 L531.2 798.0 L532.5 794.8 L533.8 789.9 L535.0 785.5 L536.2 782.4 L537.5 779.9 L538.8 778.0 L540.0 776.8 L541.2 776.4 L542.5 776.8 L543.7 778.4 L544.9 780.8 L546.2 783.0 L547.9 784.8 L549.6 786.3 L551.2 786.8 L552.5 785.5 L553.6 783.0 L555.0 780.5 L556.9 778.1 L559.1 775.5 L561.2 773.0 L563.4 770.5 L565.6 768.0 L567.5 765.5 L569.0 763.0 L570.2 760.6 L571.2 758.0 L572.1 754.9 L572.9 751.8 L573.8 749.2 L574.9 747.8 L576.2 747.1 L577.5 746.8 L578.8 747.2 L580.1 748.1 L581.2 748.0 L582.2 746.1 L583.0 743.3 L583.8 740.5 L584.6 737.9 L585.4 735.4 L586.2 733.0 L586.9 730.7 L587.6 728.6 L588.8 727.0 L590.6 726.1 L592.8 725.7 L595.0 725.2 L597.1 724.5 L599.2 723.7 L601.2 722.8 L603.3 721.7 L605.3 720.5 L607.5 719.0 L610.0 716.9 L612.5 714.5 L615.0 712.8 L617.1 712.4 L619.0 712.7 L621.2 712.8 L624.1 712.2 L627.2 711.4 L630.0 710.2 L632.3 708.8 L634.4 707.1 L636.2 705.2 L638.1 703.4 L639.7 701.3 L641.2 699.0 L642.6 696.3 L643.8 693.3 L645.0 690.2 L646.2 687.1 L647.5 684.0 L648.8 681.5 L650.0 679.8 L651.2 678.6 L652.5 677.8 L653.8 677.3 L655.0 677.2 L656.2 676.5 L657.5 674.6 L658.8 672.2 L660.0 670.2 L661.2 669.1 L662.5 668.4 L663.8 668.5 L665.0 670.2 L666.2 672.8 L667.5 674.0 L668.7 672.9 L669.9 670.5 L671.2 667.8 L672.8 664.6 L674.5 660.9 L676.2 657.8 L677.9 655.3 L679.6 653.4 L681.2 651.5 L682.9 649.9 L684.6 648.4 L686.2 646.5 L688.0 643.6 L689.7 640.3 L691.2 637.8 L692.5 636.4 L693.7 635.9 L695.0 636.0 L696.6 637.5 L698.4 639.6 L700.0 640.2 L701.3 638.2 L702.5 634.6 L703.8 631.5 L705.0 629.0 L706.2 627.0 L707.5 626.5 L709.1 628.9 L710.8 632.8 L712.5 635.2 L714.2 634.8 L715.8 632.9 L717.5 630.2 L719.2 626.9 L720.9 622.9 L722.5 619.0 L723.8 615.3 L725.0 611.6 L726.2 609.0 L727.5 607.8 L728.8 607.5 L730.0 607.8 L731.2 609.1 L732.5 611.0 L733.8 611.5 L735.0 609.4 L736.2 605.9 L737.5 602.8 L738.8 600.3 L740.0 598.1 L741.2 596.5 L742.5 595.9 L743.7 596.0 L745.0 596.0 L746.6 596.1 L748.3 596.1 L750.0 595.2 L751.7 593.0 L753.3 589.8 L755.0 586.5 L756.7 583.2 L758.3 579.7 L760.0 576.5 L761.7 573.6 L763.3 571.0 L765.0 569.0 L766.7 567.5 L768.4 566.5 L770.0 566.5 L771.3 567.9 L772.5 570.3 L773.8 572.8 L775.0 575.4 L776.2 578.1 L777.5 579.0 L778.8 576.8 L780.0 572.8 L781.2 569.0 L782.5 565.9 L783.8 563.2 L785.0 561.5 L786.2 561.8 L787.5 563.2 L788.8 564.0 L790.0 563.9 L791.2 563.2 L792.5 561.5 L793.7 558.1 L794.9 553.7 L796.2 550.2 L797.9 548.7 L799.6 548.1 L801.2 547.8 L802.5 547.8 L803.7 548.1 L805.0 547.8 L806.6 546.0 L808.3 543.6 L810.0 541.5 L811.7 539.7 L813.4 538.2 L815.0 537.8 L816.3 539.1 L817.5 541.6 L818.8 544.0 L820.0 546.4 L821.2 548.7 L822.5 549.0 L823.8 546.1 L825.1 541.3 L826.2 536.5 L827.3 532.0 L828.3 527.4 L829.2 524.0 L830.3 522.1 L831.4 521.3 L832.5 521.5 L833.7 523.0 L835.0 525.5 L836.2 527.8 L837.4 529.5 L838.5 531.0 L840.0 531.5 L842.3 530.8 L845.0 529.0 L847.5 526.5 L849.4 522.8 L851.0 518.3 L852.5 514.0 L853.8 510.2 L855.0 506.6 L856.2 504.0 L857.5 502.7 L858.8 502.3 L860.0 502.8 L861.2 504.8 L862.3 507.8 L863.8 509.0 L865.6 507.0 L867.8 503.4 L870.0 500.2 L872.1 498.4 L874.2 497.0 L876.2 496.5 L878.3 497.1 L880.4 498.6 L882.5 500.2 L884.6 502.0 L886.8 503.9 L888.8 505.2 L890.5 506.1 L892.1 506.5 L893.8 506.0 L895.5 504.2 L897.2 501.5 L898.8 499.0 L900.1 496.8 L901.3 494.8 L902.5 494.0 L903.8 495.5 L905.0 498.2 L906.2 500.2 L907.5 501.0 L908.7 501.1 L910.0 500.2 L911.5 497.9 L913.2 494.6 L915.0 491.5 L917.1 488.9 L919.3 486.5 L921.2 485.2 L922.6 485.6 L923.5 487.1 L924.5 489.0 L925.4 491.7 L926.4 494.9 L927.5 496.5 L929.1 495.1 L930.9 492.1 L932.5 490.2 L933.8 490.6 L935.0 492.1 L936.2 494.0 L937.5 496.3 L938.8 499.0 L940.0 501.5 L941.2 503.7 L942.5 505.7 L943.8 507.0 L945.0 507.3 L946.2 506.9 L947.5 506.5 L948.8 506.0 L950.0 505.3 L951.2 505.2 L952.5 505.9 L953.8 507.1 L955.0 509.0 L956.2 511.9 L957.5 515.4 L958.8 519.0 L960.0 522.4 L961.2 525.9 L962.5 529.0 L964.1 531.6 L965.8 533.9 L967.5 536.5 L969.2 539.6 L970.8 542.9 L972.5 546.5 L974.1 550.4 L975.6 554.6 L977.5 559.0 L979.8 563.8 L982.4 568.9 L985.0 574.0 L987.5 578.9 L990.0 583.7 L992.5 589.0 L995.0 595.1 L997.5 601.5 L1000.0 607.8 L1002.5 613.4 L1005.0 618.8 L1007.5 624.0 L1010.0 629.0 L1012.5 634.0 L1015.0 639.0 L1017.6 644.5 L1020.2 650.1 L1022.5 655.2 L1024.4 660.0 L1025.9 664.3 L1027.5 667.8 L1029.2 670.0 L1030.9 671.3 L1032.5 672.0 L1033.9 671.6 L1035.1 670.5 L1036.2 670.2 L1037.2 671.4 L1038.0 673.5 L1038.8 676.5 L1039.6 680.8 L1040.4 686.0 L1041.2 691.5 L1042.1 697.3 L1042.9 703.4 L1043.8 709.0 L1044.5 713.9 L1045.3 718.3 L1046.2 721.5 L1047.4 723.2 L1048.7 723.7 L1050.0 724.0 L1051.3 723.9 L1052.7 723.5 L1053.8 724.0 L1054.3 726.1 L1054.6 729.0 L1055.0 731.8 L1055.6 734.0 L1056.4 736.2 L1057.5 738.0 L1059.1 739.2 L1060.9 740.2 L1062.5 741.8 L1063.5 744.2 L1064.3 747.1 L1065.0 750.5 L1065.8 754.4 L1066.7 758.7 L1067.5 763.0 L1068.3 767.2 L1069.1 771.4 L1070.0 775.5 L1071.1 779.3 L1072.4 783.0 L1073.8 786.8 L1075.3 790.5 L1077.0 794.3 L1078.8 798.0 L1080.4 801.6 L1082.0 805.1 L1083.8 808.0 L1085.8 809.8 L1088.1 811.0 L1090.0 813.0 L1091.4 816.4 L1092.5 820.7 L1093.8 825.5 L1095.2 830.8 L1096.8 836.6 L1098.8 843.0 L1101.3 850.4 L1104.4 858.4 L1107.5 865.5 L1110.7 870.8 L1114.1 875.2 L1117.5 880.5 L1120.7 887.4 L1124.0 895.0 L1127.5 903.0 L1131.7 911.3 L1136.1 919.9 L1140.0 928.0 L1142.9 934.9 L1145.2 941.3 L1147.5 948.0 L1150.0 955.5 L1152.5 963.3 L1155.0 970.5 L1157.4 976.7 L1159.8 982.4 L1162.5 988.0 L1165.7 993.9 L1169.2 999.8 L1172.5 1005.5 L1175.6 1011.1 L1178.6 1016.7 L1181.2 1021.8 L1183.4 1026.3 L1185.2 1030.5 L1187.5 1034.2 L1190.8 1037.6 L1194.6 1040.6 L1197.5 1043.0 L1198.6 1044.2 L1198.9 1044.9 L1200.0 1046.4 L1202.8 1049.7 L1206.5 1053.8 L1210.1 1057.8 L1213.2 1061.2 L1216.1 1064.4 L1219.0 1067.9 L1221.9 1072.0 L1224.8 1076.3 L1227.8 1080.5 L1231.0 1084.6 L1234.3 1088.6 L1237.9 1091.9 L1242.0 1094.0 L1246.4 1095.5 L1250.5 1096.9 L1254.1 1098.6 L1257.5 1100.4 L1260.7 1102.0 L1263.8 1103.7 L1266.7 1105.2 L1269.5 1106.3 L1272.2 1106.4 L1274.7 1105.9 L1277.1 1106.3 L1279.2 1108.2 L1281.3 1110.9 L1283.4 1113.4 L1285.5 1115.6 L1287.7 1117.6 L1291.0 1118.9 L1296.2 1119.3 L1302.4 1118.9 L1308.7 1117.9 L1314.7 1116.1 L1320.7 1113.6 L1326.4 1111.3 L1331.9 1109.4 L1337.1 1107.7 L1341.5 1105.8 L1344.6 1103.9 L1346.9 1102.0 L1349.1 1099.5 L1351.3 1096.1 L1353.3 1092.2 L1355.4 1088.1 L1357.3 1084.3 L1359.1 1080.4 L1361.7 1075.5 L1365.5 1068.6 L1369.9 1060.7 L1374.4 1054.0 L1378.8 1050.0 L1383.2 1047.2 L1387.0 1043.9 L1390.0 1039.0 L1392.4 1033.5 L1394.6 1028.7 L1396.4 1025.3 L1397.8 1022.7 L1399.6 1019.9 L1401.8 1017.0 L1404.4 1013.9 L1407.2 1009.8 L1410.4 1004.1 L1413.8 997.5 L1417.3 990.8 L1420.7 984.6 L1424.0 978.4 L1427.4 971.8 L1430.8 964.7 L1434.2 957.2 L1437.6 949.1 L1441.0 940.2 L1444.3 930.8 L1447.7 921.3 L1451.1 911.9 L1454.4 902.6 L1457.8 893.5 L1461.2 885.1 L1464.5 876.9 L1467.9 868.2 L1471.2 858.7 L1474.5 848.6 L1478.0 837.9 L1481.9 825.9 L1486.0 813.3 L1489.4 802.5 L1491.4 795.4 L1492.7 790.1 L1494.5 783.6 L1497.2 774.1 L1500.4 763.4 L1503.5 754.0 L1506.4 747.1 L1509.2 741.4 L1512.0 736.0 L1514.8 731.6 L1517.7 727.4 L1520.9 720.0 L1524.8 706.3 L1529.1 689.3 L1533.0 674.7 L1536.1 665.1 L1538.8 657.8 L1541.8 650.5 L1545.3 642.5 L1549.0 634.6 L1552.7 626.4 L1556.4 617.9 L1560.0 609.0 L1563.7 600.0 L1567.4 590.5 L1571.0 580.9 L1574.7 571.4 L1578.4 562.4 L1582.0 553.7 L1585.7 545.0 L1589.4 536.1 L1593.0 527.3 L1596.7 518.7 L1600.4 510.3 L1604.0 502.2 L1607.7 494.5 L1611.4 487.5 L1615.0 481.0 L1618.7 474.7 L1622.4 468.6 L1626.2 462.8 L1629.7 457.1 L1632.8 451.7 L1635.7 446.4 L1638.5 441.2 L1641.4 435.7 L1644.3 430.3 L1646.8 425.6 L1649.0 421.9 L1650.8 419.0 L1652.0 417.0" stroke="#00b400" stroke-width="10.7"/>
</g>
<g font-family="'Liberation Serif', serif" font-size="76" fill="#000">
<text x="172.8" y="1320.1" text-anchor="end" letter-spacing="-1.1">0.0</text>
<text x="172.8" y="1066.1" text-anchor="end" letter-spacing="-1.1">0.2</text>
<text x="172.8" y="812.1" text-anchor="end" letter-spacing="-1.1">0.4</text>
<text x="172.8" y="558.2" text-anchor="end" letter-spacing="-1.1">0.6</text>
<text x="172.8" y="304.2" text-anchor="end" letter-spacing="-1.1">0.8</text>
<text x="172.8" y="50.2" text-anchor="end" letter-spacing="-1.1">1.0</text>
<text x="1660.6" y="1320.1" text-anchor="start" letter-spacing="-0.8">0.6</text>
<text x="1660.6" y="1066.1" text-anchor="start" letter-spacing="-0.8">0.8</text>
<text x="1660.6" y="812.1" text-anchor="start" letter-spacing="-0.8">1.0</text>
<text x="1660.6" y="558.2" text-anchor="start" letter-spacing="-0.8">1.2</text>
<text x="1660.6" y="304.2" text-anchor="start" letter-spacing="-0.8">1.4</text>
<text x="1660.6" y="50.2" text-anchor="start" letter-spacing="-0.8">1.6</text>
<text x="247.0" y="1358" text-anchor="middle">400</text>
<text x="647.2" y="1358" text-anchor="middle">600</text>
<text x="1047.5" y="1358" text-anchor="middle">800</text>
<text x="1448.9" y="1358" text-anchor="middle">1000</text>
<text x="922.1" y="1440" text-anchor="middle" font-size="75">Wavelength (nm)</text>
<text transform="translate(52 658) rotate(-90)" text-anchor="middle" font-size="75.6">Transmission</text>
<text transform="translate(1819 660) rotate(-90)" text-anchor="middle">Reflectance</text>
</g>
<g font-family="'Liberation Serif', serif" font-size="65" text-anchor="middle">
<text x="426.2" y="151.0" fill="#4169e1">g</text>
<text x="725.0" y="151.0" fill="#32cd32">r</text>
<text x="1006.2" y="151.0" fill="#ffa500">i</text>
<text x="1342.5" y="151.0" fill="#ff6347">z</text>
<text x="1448.4" y="596.0" fill="#f20000">S</text>
<text x="1447.7" y="723.0" fill="#51009b">X</text>
<text x="1348.3" y="850.0" fill="#3200e6">C</text>
<text x="1308.0" y="1090.5" fill="#00b400">V</text>
</g>
</svg>
</body>
</html>
